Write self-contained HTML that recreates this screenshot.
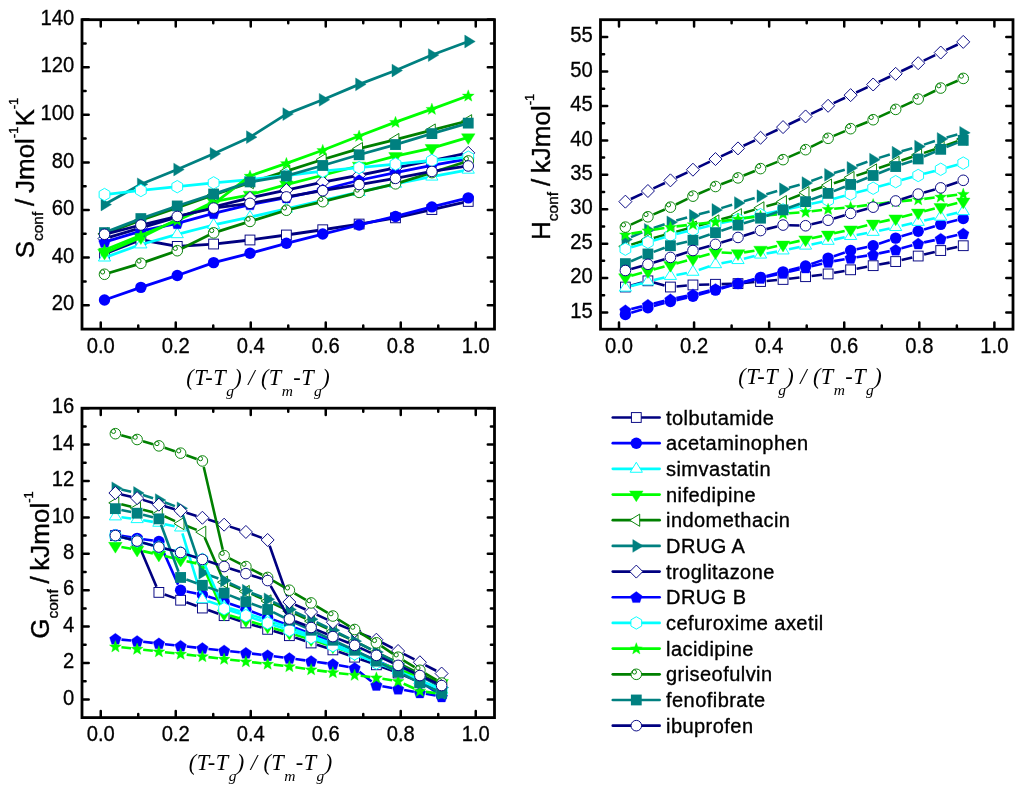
<!DOCTYPE html>
<html><head><meta charset="utf-8"><title>Configurational properties</title>
<style>
html,body{margin:0;padding:0;background:#fff}
svg{display:block}
.tk{font-family:"Liberation Sans",Arial,sans-serif;font-size:21.4px;fill:#000;stroke:#000;stroke-width:.3px}
.lg{font-family:"Liberation Sans",Arial,sans-serif;font-size:20px;letter-spacing:0.45px;fill:#000;stroke:#000;stroke-width:.35px}
.yt{font-family:"Liberation Sans",Arial,sans-serif;font-size:26px;word-spacing:-1.5px;fill:#000;stroke:#000;stroke-width:.35px}
.ss{font-size:15.5px}
.sp{font-size:13px}
.xt{font-family:"Liberation Serif","Times New Roman",serif;font-style:italic;font-size:22.4px;fill:#000}
.sb{font-size:15.5px}
</style></head><body>
<svg width="1024" height="793" viewBox="0 0 1024 793">
<rect width="1024" height="793" fill="#fff"/>
<polyline points="104.5,254.03 140.88,239.75 177.25,246.41 213.62,244.03 250,239.99 286.38,234.99 322.75,229.75 359.12,224.04 395.5,217.85 431.88,209.52 468.25,201.43" fill="none" stroke="#000080" stroke-width="2.8" stroke-linejoin="round" stroke-linecap="round"/>
<rect x="99.6" y="249.13" width="9.8" height="9.8" fill="#fff" stroke="#000080" stroke-width="0.95"/>
<rect x="135.97" y="234.85" width="9.8" height="9.8" fill="#fff" stroke="#000080" stroke-width="0.95"/>
<rect x="172.35" y="241.51" width="9.8" height="9.8" fill="#fff" stroke="#000080" stroke-width="0.95"/>
<rect x="208.72" y="239.13" width="9.8" height="9.8" fill="#fff" stroke="#000080" stroke-width="0.95"/>
<rect x="245.1" y="235.09" width="9.8" height="9.8" fill="#fff" stroke="#000080" stroke-width="0.95"/>
<rect x="281.48" y="230.09" width="9.8" height="9.8" fill="#fff" stroke="#000080" stroke-width="0.95"/>
<rect x="317.85" y="224.85" width="9.8" height="9.8" fill="#fff" stroke="#000080" stroke-width="0.95"/>
<rect x="354.23" y="219.14" width="9.8" height="9.8" fill="#fff" stroke="#000080" stroke-width="0.95"/>
<rect x="390.6" y="212.95" width="9.8" height="9.8" fill="#fff" stroke="#000080" stroke-width="0.95"/>
<rect x="426.98" y="204.62" width="9.8" height="9.8" fill="#fff" stroke="#000080" stroke-width="0.95"/>
<rect x="463.35" y="196.53" width="9.8" height="9.8" fill="#fff" stroke="#000080" stroke-width="0.95"/>
<polyline points="104.5,299.96 140.88,287.35 177.25,275.45 213.62,262.6 250,253.32 286.38,243.32 322.75,234.04 359.12,224.99 395.5,216.43 431.88,206.91 468.25,197.86" fill="none" stroke="#0000FF" stroke-width="2.8" stroke-linejoin="round" stroke-linecap="round"/>
<circle cx="104.5" cy="299.96" r="5.7" fill="#0000FF"/>
<circle cx="140.88" cy="287.35" r="5.7" fill="#0000FF"/>
<circle cx="177.25" cy="275.45" r="5.7" fill="#0000FF"/>
<circle cx="213.62" cy="262.6" r="5.7" fill="#0000FF"/>
<circle cx="250" cy="253.32" r="5.7" fill="#0000FF"/>
<circle cx="286.38" cy="243.32" r="5.7" fill="#0000FF"/>
<circle cx="322.75" cy="234.04" r="5.7" fill="#0000FF"/>
<circle cx="359.12" cy="224.99" r="5.7" fill="#0000FF"/>
<circle cx="395.5" cy="216.43" r="5.7" fill="#0000FF"/>
<circle cx="431.88" cy="206.91" r="5.7" fill="#0000FF"/>
<circle cx="468.25" cy="197.86" r="5.7" fill="#0000FF"/>
<polyline points="104.5,257.6 140.88,244.51 177.25,234.28 213.62,224.99 250,217.14 286.38,208.81 322.75,200.48 359.12,192.15 395.5,183.82 431.88,176.68 468.25,169.78" fill="none" stroke="#00FFFF" stroke-width="2.8" stroke-linejoin="round" stroke-linecap="round"/>
<polygon points="104.5,251 110.6,261 98.4,261" fill="#fff" stroke="#00FFFF" stroke-width="0.95" stroke-linejoin="miter"/>
<polygon points="140.88,237.91 146.97,247.91 134.78,247.91" fill="#fff" stroke="#00FFFF" stroke-width="0.95" stroke-linejoin="miter"/>
<polygon points="177.25,227.68 183.35,237.68 171.15,237.68" fill="#fff" stroke="#00FFFF" stroke-width="0.95" stroke-linejoin="miter"/>
<polygon points="213.62,218.39 219.72,228.39 207.53,228.39" fill="#fff" stroke="#00FFFF" stroke-width="0.95" stroke-linejoin="miter"/>
<polygon points="250,210.54 256.1,220.54 243.9,220.54" fill="#fff" stroke="#00FFFF" stroke-width="0.95" stroke-linejoin="miter"/>
<polygon points="286.38,202.21 292.48,212.21 280.27,212.21" fill="#fff" stroke="#00FFFF" stroke-width="0.95" stroke-linejoin="miter"/>
<polygon points="322.75,193.88 328.85,203.88 316.65,203.88" fill="#fff" stroke="#00FFFF" stroke-width="0.95" stroke-linejoin="miter"/>
<polygon points="359.12,185.55 365.23,195.55 353.02,195.55" fill="#fff" stroke="#00FFFF" stroke-width="0.95" stroke-linejoin="miter"/>
<polygon points="395.5,177.22 401.6,187.22 389.4,187.22" fill="#fff" stroke="#00FFFF" stroke-width="0.95" stroke-linejoin="miter"/>
<polygon points="431.88,170.08 437.98,180.08 425.77,180.08" fill="#fff" stroke="#00FFFF" stroke-width="0.95" stroke-linejoin="miter"/>
<polygon points="468.25,163.18 474.35,173.18 462.15,173.18" fill="#fff" stroke="#00FFFF" stroke-width="0.95" stroke-linejoin="miter"/>
<polyline points="104.5,252.84 140.88,237.37 177.25,219.52 213.62,201.67 250,194.77 286.38,184.53 322.75,175.25 359.12,165.73 395.5,156.21 431.88,148.12 468.25,137.41" fill="none" stroke="#00FF00" stroke-width="2.8" stroke-linejoin="round" stroke-linecap="round"/>
<polygon points="104.5,260.04 111.3,249.24 97.7,249.24" fill="#00FF00" stroke="#00FF00" stroke-width="0.4" stroke-linejoin="miter"/>
<polygon points="140.88,244.57 147.68,233.77 134.07,233.77" fill="#00FF00" stroke="#00FF00" stroke-width="0.4" stroke-linejoin="miter"/>
<polygon points="177.25,226.72 184.05,215.92 170.45,215.92" fill="#00FF00" stroke="#00FF00" stroke-width="0.4" stroke-linejoin="miter"/>
<polygon points="213.62,208.87 220.43,198.07 206.82,198.07" fill="#00FF00" stroke="#00FF00" stroke-width="0.4" stroke-linejoin="miter"/>
<polygon points="250,201.97 256.8,191.17 243.2,191.17" fill="#00FF00" stroke="#00FF00" stroke-width="0.4" stroke-linejoin="miter"/>
<polygon points="286.38,191.73 293.18,180.93 279.57,180.93" fill="#00FF00" stroke="#00FF00" stroke-width="0.4" stroke-linejoin="miter"/>
<polygon points="322.75,182.45 329.55,171.65 315.95,171.65" fill="#00FF00" stroke="#00FF00" stroke-width="0.4" stroke-linejoin="miter"/>
<polygon points="359.12,172.93 365.93,162.13 352.32,162.13" fill="#00FF00" stroke="#00FF00" stroke-width="0.4" stroke-linejoin="miter"/>
<polygon points="395.5,163.41 402.3,152.61 388.7,152.61" fill="#00FF00" stroke="#00FF00" stroke-width="0.4" stroke-linejoin="miter"/>
<polygon points="431.88,155.32 438.68,144.52 425.07,144.52" fill="#00FF00" stroke="#00FF00" stroke-width="0.4" stroke-linejoin="miter"/>
<polygon points="468.25,144.61 475.05,133.81 461.45,133.81" fill="#00FF00" stroke="#00FF00" stroke-width="0.4" stroke-linejoin="miter"/>
<polyline points="104.5,233.8 140.88,220.23 177.25,207.62 213.62,195.01 250,182.63 286.38,171.21 322.75,159.54 359.12,148.6 395.5,139.55 431.88,130.03 468.25,120.75" fill="none" stroke="#008000" stroke-width="2.8" stroke-linejoin="round" stroke-linecap="round"/>
<polygon points="97.9,233.8 107.9,227.7 107.9,239.9" fill="#fff" stroke="#008000" stroke-width="0.95" stroke-linejoin="miter"/>
<polygon points="134.28,220.23 144.28,214.13 144.28,226.33" fill="#fff" stroke="#008000" stroke-width="0.95" stroke-linejoin="miter"/>
<polygon points="170.65,207.62 180.65,201.52 180.65,213.72" fill="#fff" stroke="#008000" stroke-width="0.95" stroke-linejoin="miter"/>
<polygon points="207.03,195.01 217.03,188.91 217.03,201.11" fill="#fff" stroke="#008000" stroke-width="0.95" stroke-linejoin="miter"/>
<polygon points="243.4,182.63 253.4,176.53 253.4,188.73" fill="#fff" stroke="#008000" stroke-width="0.95" stroke-linejoin="miter"/>
<polygon points="279.77,171.21 289.77,165.11 289.77,177.31" fill="#fff" stroke="#008000" stroke-width="0.95" stroke-linejoin="miter"/>
<polygon points="316.15,159.54 326.15,153.44 326.15,165.64" fill="#fff" stroke="#008000" stroke-width="0.95" stroke-linejoin="miter"/>
<polygon points="352.52,148.6 362.52,142.5 362.52,154.7" fill="#fff" stroke="#008000" stroke-width="0.95" stroke-linejoin="miter"/>
<polygon points="388.9,139.55 398.9,133.45 398.9,145.65" fill="#fff" stroke="#008000" stroke-width="0.95" stroke-linejoin="miter"/>
<polygon points="425.27,130.03 435.27,123.93 435.27,136.13" fill="#fff" stroke="#008000" stroke-width="0.95" stroke-linejoin="miter"/>
<polygon points="461.65,120.75 471.65,114.65 471.65,126.85" fill="#fff" stroke="#008000" stroke-width="0.95" stroke-linejoin="miter"/>
<polyline points="104.5,204.53 140.88,184.3 177.25,169.54 213.62,153.83 250,137.17 286.38,114.09 322.75,99.81 359.12,84.34 395.5,70.53 431.88,55.06 468.25,41.5" fill="none" stroke="#008080" stroke-width="2.8" stroke-linejoin="round" stroke-linecap="round"/>
<polygon points="111.5,204.53 101,198.13 101,210.93" fill="#008080" stroke="#008080" stroke-width="0.4" stroke-linejoin="miter"/>
<polygon points="147.88,184.3 137.38,177.9 137.38,190.7" fill="#008080" stroke="#008080" stroke-width="0.4" stroke-linejoin="miter"/>
<polygon points="184.25,169.54 173.75,163.14 173.75,175.94" fill="#008080" stroke="#008080" stroke-width="0.4" stroke-linejoin="miter"/>
<polygon points="220.62,153.83 210.12,147.43 210.12,160.23" fill="#008080" stroke="#008080" stroke-width="0.4" stroke-linejoin="miter"/>
<polygon points="257,137.17 246.5,130.77 246.5,143.57" fill="#008080" stroke="#008080" stroke-width="0.4" stroke-linejoin="miter"/>
<polygon points="293.38,114.09 282.88,107.69 282.88,120.49" fill="#008080" stroke="#008080" stroke-width="0.4" stroke-linejoin="miter"/>
<polygon points="329.75,99.81 319.25,93.41 319.25,106.21" fill="#008080" stroke="#008080" stroke-width="0.4" stroke-linejoin="miter"/>
<polygon points="366.12,84.34 355.62,77.94 355.62,90.74" fill="#008080" stroke="#008080" stroke-width="0.4" stroke-linejoin="miter"/>
<polygon points="402.5,70.53 392,64.13 392,76.93" fill="#008080" stroke="#008080" stroke-width="0.4" stroke-linejoin="miter"/>
<polygon points="438.88,55.06 428.38,48.66 428.38,61.46" fill="#008080" stroke="#008080" stroke-width="0.4" stroke-linejoin="miter"/>
<polygon points="475.25,41.5 464.75,35.1 464.75,47.9" fill="#008080" stroke="#008080" stroke-width="0.4" stroke-linejoin="miter"/>
<polyline points="104.5,238.56 140.88,227.85 177.25,217.14 213.62,206.91 250,197.86 286.38,190.01 322.75,182.15 359.12,175.25 395.5,167.87 431.88,160.5 468.25,152.88" fill="none" stroke="#000080" stroke-width="2.8" stroke-linejoin="round" stroke-linecap="round"/>
<polygon points="104.5,232.06 111,238.56 104.5,245.06 98,238.56" fill="#fff" stroke="#000080" stroke-width="0.95" stroke-linejoin="miter"/>
<polygon points="140.88,221.35 147.38,227.85 140.88,234.35 134.38,227.85" fill="#fff" stroke="#000080" stroke-width="0.95" stroke-linejoin="miter"/>
<polygon points="177.25,210.64 183.75,217.14 177.25,223.64 170.75,217.14" fill="#fff" stroke="#000080" stroke-width="0.95" stroke-linejoin="miter"/>
<polygon points="213.62,200.41 220.12,206.91 213.62,213.41 207.12,206.91" fill="#fff" stroke="#000080" stroke-width="0.95" stroke-linejoin="miter"/>
<polygon points="250,191.36 256.5,197.86 250,204.36 243.5,197.86" fill="#fff" stroke="#000080" stroke-width="0.95" stroke-linejoin="miter"/>
<polygon points="286.38,183.51 292.88,190.01 286.38,196.51 279.88,190.01" fill="#fff" stroke="#000080" stroke-width="0.95" stroke-linejoin="miter"/>
<polygon points="322.75,175.65 329.25,182.15 322.75,188.65 316.25,182.15" fill="#fff" stroke="#000080" stroke-width="0.95" stroke-linejoin="miter"/>
<polygon points="359.12,168.75 365.62,175.25 359.12,181.75 352.62,175.25" fill="#fff" stroke="#000080" stroke-width="0.95" stroke-linejoin="miter"/>
<polygon points="395.5,161.37 402,167.87 395.5,174.37 389,167.87" fill="#fff" stroke="#000080" stroke-width="0.95" stroke-linejoin="miter"/>
<polygon points="431.88,154 438.38,160.5 431.88,167 425.38,160.5" fill="#fff" stroke="#000080" stroke-width="0.95" stroke-linejoin="miter"/>
<polygon points="468.25,146.38 474.75,152.88 468.25,159.38 461.75,152.88" fill="#fff" stroke="#000080" stroke-width="0.95" stroke-linejoin="miter"/>
<polyline points="104.5,242.13 140.88,231.18 177.25,223.33 213.62,213.33 250,204.53 286.38,197.62 322.75,189.77 359.12,180.25 395.5,172.63 431.88,165.49 468.25,158.83" fill="none" stroke="#0000FF" stroke-width="2.8" stroke-linejoin="round" stroke-linecap="round"/>
<polygon points="104.5,236.43 110.3,240.64 108.09,247.47 100.91,247.47 98.7,240.64" fill="#0000FF" stroke="#0000FF" stroke-width="0.3" stroke-linejoin="miter"/>
<polygon points="140.88,225.48 146.68,229.7 144.46,236.52 137.29,236.52 135.07,229.7" fill="#0000FF" stroke="#0000FF" stroke-width="0.3" stroke-linejoin="miter"/>
<polygon points="177.25,217.63 183.05,221.84 180.84,228.66 173.66,228.66 171.45,221.84" fill="#0000FF" stroke="#0000FF" stroke-width="0.3" stroke-linejoin="miter"/>
<polygon points="213.62,207.63 219.43,211.85 217.21,218.67 210.04,218.67 207.82,211.85" fill="#0000FF" stroke="#0000FF" stroke-width="0.3" stroke-linejoin="miter"/>
<polygon points="250,198.83 255.8,203.04 253.59,209.86 246.41,209.86 244.2,203.04" fill="#0000FF" stroke="#0000FF" stroke-width="0.3" stroke-linejoin="miter"/>
<polygon points="286.38,191.92 292.18,196.14 289.96,202.96 282.79,202.96 280.57,196.14" fill="#0000FF" stroke="#0000FF" stroke-width="0.3" stroke-linejoin="miter"/>
<polygon points="322.75,184.07 328.55,188.28 326.34,195.11 319.16,195.11 316.95,188.28" fill="#0000FF" stroke="#0000FF" stroke-width="0.3" stroke-linejoin="miter"/>
<polygon points="359.12,174.55 364.93,178.76 362.71,185.59 355.54,185.59 353.32,178.76" fill="#0000FF" stroke="#0000FF" stroke-width="0.3" stroke-linejoin="miter"/>
<polygon points="395.5,166.93 401.3,171.15 399.09,177.97 391.91,177.97 389.7,171.15" fill="#0000FF" stroke="#0000FF" stroke-width="0.3" stroke-linejoin="miter"/>
<polygon points="431.88,159.79 437.68,164.01 435.46,170.83 428.29,170.83 426.07,164.01" fill="#0000FF" stroke="#0000FF" stroke-width="0.3" stroke-linejoin="miter"/>
<polygon points="468.25,153.13 474.05,157.34 471.84,164.17 464.66,164.17 462.45,157.34" fill="#0000FF" stroke="#0000FF" stroke-width="0.3" stroke-linejoin="miter"/>
<polyline points="104.5,194.53 140.88,190.48 177.25,186.68 213.62,182.87 250,179.54 286.38,175.49 322.75,171.21 359.12,167.64 395.5,164.07 431.88,160.5 468.25,157.16" fill="none" stroke="#00FFFF" stroke-width="2.8" stroke-linejoin="round" stroke-linecap="round"/>
<polygon points="104.5,188.33 109.87,191.43 109.87,197.63 104.5,200.73 99.13,197.63 99.13,191.43" fill="#fff" stroke="#00FFFF" stroke-width="0.95" stroke-linejoin="miter"/>
<polygon points="140.88,184.28 146.24,187.38 146.24,193.58 140.88,196.68 135.51,193.58 135.51,187.38" fill="#fff" stroke="#00FFFF" stroke-width="0.95" stroke-linejoin="miter"/>
<polygon points="177.25,180.48 182.62,183.58 182.62,189.78 177.25,192.88 171.88,189.78 171.88,183.58" fill="#fff" stroke="#00FFFF" stroke-width="0.95" stroke-linejoin="miter"/>
<polygon points="213.62,176.67 218.99,179.77 218.99,185.97 213.62,189.07 208.26,185.97 208.26,179.77" fill="#fff" stroke="#00FFFF" stroke-width="0.95" stroke-linejoin="miter"/>
<polygon points="250,173.34 255.37,176.44 255.37,182.64 250,185.74 244.63,182.64 244.63,176.44" fill="#fff" stroke="#00FFFF" stroke-width="0.95" stroke-linejoin="miter"/>
<polygon points="286.38,169.29 291.74,172.39 291.74,178.59 286.38,181.69 281.01,178.59 281.01,172.39" fill="#fff" stroke="#00FFFF" stroke-width="0.95" stroke-linejoin="miter"/>
<polygon points="322.75,165.01 328.12,168.11 328.12,174.31 322.75,177.41 317.38,174.31 317.38,168.11" fill="#fff" stroke="#00FFFF" stroke-width="0.95" stroke-linejoin="miter"/>
<polygon points="359.12,161.44 364.49,164.54 364.49,170.74 359.12,173.84 353.76,170.74 353.76,164.54" fill="#fff" stroke="#00FFFF" stroke-width="0.95" stroke-linejoin="miter"/>
<polygon points="395.5,157.87 400.87,160.97 400.87,167.17 395.5,170.27 390.13,167.17 390.13,160.97" fill="#fff" stroke="#00FFFF" stroke-width="0.95" stroke-linejoin="miter"/>
<polygon points="431.88,154.3 437.24,157.4 437.24,163.6 431.88,166.7 426.51,163.6 426.51,157.4" fill="#fff" stroke="#00FFFF" stroke-width="0.95" stroke-linejoin="miter"/>
<polygon points="468.25,150.96 473.62,154.06 473.62,160.26 468.25,163.36 462.88,160.26 462.88,154.06" fill="#fff" stroke="#00FFFF" stroke-width="0.95" stroke-linejoin="miter"/>
<polyline points="104.5,249.98 140.88,235.23 177.25,220.47 213.62,203.81 250,175.97 286.38,163.35 322.75,150.26 359.12,135.98 395.5,122.18 431.88,109.09 468.25,95.76" fill="none" stroke="#00FF00" stroke-width="2.8" stroke-linejoin="round" stroke-linecap="round"/>
<polygon points="104.5,243.98 106.09,248.1 110.49,248.34 107.07,251.12 108.2,255.38 104.5,252.98 100.8,255.38 101.93,251.12 98.51,248.34 102.91,248.1" fill="#00FF00" stroke="#00FF00" stroke-width="0.3" stroke-linejoin="miter"/>
<polygon points="140.88,229.23 142.46,233.34 146.87,233.58 143.44,236.36 144.58,240.62 140.88,238.23 137.17,240.62 138.31,236.36 134.88,233.58 139.29,233.34" fill="#00FF00" stroke="#00FF00" stroke-width="0.3" stroke-linejoin="miter"/>
<polygon points="177.25,214.47 178.84,218.59 183.24,218.83 179.82,221.61 180.95,225.87 177.25,223.47 173.55,225.87 174.68,221.61 171.26,218.83 175.66,218.59" fill="#00FF00" stroke="#00FF00" stroke-width="0.3" stroke-linejoin="miter"/>
<polygon points="213.62,197.81 215.21,201.93 219.62,202.17 216.19,204.95 217.33,209.21 213.62,206.81 209.92,209.21 211.06,204.95 207.63,202.17 212.04,201.93" fill="#00FF00" stroke="#00FF00" stroke-width="0.3" stroke-linejoin="miter"/>
<polygon points="250,169.97 251.59,174.08 255.99,174.32 252.57,177.1 253.7,181.36 250,178.97 246.3,181.36 247.43,177.1 244.01,174.32 248.41,174.08" fill="#00FF00" stroke="#00FF00" stroke-width="0.3" stroke-linejoin="miter"/>
<polygon points="286.38,157.35 287.96,161.47 292.37,161.71 288.94,164.49 290.08,168.75 286.38,166.35 282.67,168.75 283.81,164.49 280.38,161.71 284.79,161.47" fill="#00FF00" stroke="#00FF00" stroke-width="0.3" stroke-linejoin="miter"/>
<polygon points="322.75,144.26 324.34,148.38 328.74,148.62 325.32,151.4 326.45,155.66 322.75,153.26 319.05,155.66 320.18,151.4 316.76,148.62 321.16,148.38" fill="#00FF00" stroke="#00FF00" stroke-width="0.3" stroke-linejoin="miter"/>
<polygon points="359.12,129.98 360.71,134.1 365.12,134.34 361.69,137.12 362.83,141.38 359.12,138.98 355.42,141.38 356.56,137.12 353.13,134.34 357.54,134.1" fill="#00FF00" stroke="#00FF00" stroke-width="0.3" stroke-linejoin="miter"/>
<polygon points="395.5,116.18 397.09,120.29 401.49,120.53 398.07,123.31 399.2,127.57 395.5,125.18 391.8,127.57 392.93,123.31 389.51,120.53 393.91,120.29" fill="#00FF00" stroke="#00FF00" stroke-width="0.3" stroke-linejoin="miter"/>
<polygon points="431.88,103.09 433.46,107.2 437.87,107.44 434.44,110.22 435.58,114.48 431.88,112.09 428.17,114.48 429.31,110.22 425.88,107.44 430.29,107.2" fill="#00FF00" stroke="#00FF00" stroke-width="0.3" stroke-linejoin="miter"/>
<polygon points="468.25,89.76 469.84,93.88 474.24,94.11 470.82,96.89 471.95,101.16 468.25,98.76 464.55,101.16 465.68,96.89 462.26,94.11 466.66,93.88" fill="#00FF00" stroke="#00FF00" stroke-width="0.3" stroke-linejoin="miter"/>
<polyline points="104.5,274.26 140.88,263.31 177.25,250.7 213.62,232.85 250,221.42 286.38,210.24 322.75,201.67 359.12,192.39 395.5,183.82 431.88,172.63 468.25,160.97" fill="none" stroke="#008000" stroke-width="2.8" stroke-linejoin="round" stroke-linecap="round"/>
<circle cx="104.5" cy="274.26" r="5.3" fill="#fff" stroke="#008000" stroke-width="0.95"/><circle cx="102.6" cy="271.96" r="2.1" fill="#fff" stroke="#008000" stroke-width="0.95"/>
<circle cx="140.88" cy="263.31" r="5.3" fill="#fff" stroke="#008000" stroke-width="0.95"/><circle cx="138.97" cy="261.01" r="2.1" fill="#fff" stroke="#008000" stroke-width="0.95"/>
<circle cx="177.25" cy="250.7" r="5.3" fill="#fff" stroke="#008000" stroke-width="0.95"/><circle cx="175.35" cy="248.4" r="2.1" fill="#fff" stroke="#008000" stroke-width="0.95"/>
<circle cx="213.62" cy="232.85" r="5.3" fill="#fff" stroke="#008000" stroke-width="0.95"/><circle cx="211.72" cy="230.55" r="2.1" fill="#fff" stroke="#008000" stroke-width="0.95"/>
<circle cx="250" cy="221.42" r="5.3" fill="#fff" stroke="#008000" stroke-width="0.95"/><circle cx="248.1" cy="219.12" r="2.1" fill="#fff" stroke="#008000" stroke-width="0.95"/>
<circle cx="286.38" cy="210.24" r="5.3" fill="#fff" stroke="#008000" stroke-width="0.95"/><circle cx="284.48" cy="207.94" r="2.1" fill="#fff" stroke="#008000" stroke-width="0.95"/>
<circle cx="322.75" cy="201.67" r="5.3" fill="#fff" stroke="#008000" stroke-width="0.95"/><circle cx="320.85" cy="199.37" r="2.1" fill="#fff" stroke="#008000" stroke-width="0.95"/>
<circle cx="359.12" cy="192.39" r="5.3" fill="#fff" stroke="#008000" stroke-width="0.95"/><circle cx="357.23" cy="190.09" r="2.1" fill="#fff" stroke="#008000" stroke-width="0.95"/>
<circle cx="395.5" cy="183.82" r="5.3" fill="#fff" stroke="#008000" stroke-width="0.95"/><circle cx="393.6" cy="181.52" r="2.1" fill="#fff" stroke="#008000" stroke-width="0.95"/>
<circle cx="431.88" cy="172.63" r="5.3" fill="#fff" stroke="#008000" stroke-width="0.95"/><circle cx="429.98" cy="170.33" r="2.1" fill="#fff" stroke="#008000" stroke-width="0.95"/>
<circle cx="468.25" cy="160.97" r="5.3" fill="#fff" stroke="#008000" stroke-width="0.95"/><circle cx="466.35" cy="158.67" r="2.1" fill="#fff" stroke="#008000" stroke-width="0.95"/>
<polyline points="104.5,232.61 140.88,218.57 177.25,205.95 213.62,194.05 250,181.92 286.38,175.97 322.75,165.49 359.12,154.78 395.5,144.55 431.88,133.6 468.25,123.13" fill="none" stroke="#008080" stroke-width="2.8" stroke-linejoin="round" stroke-linecap="round"/>
<rect x="99.1" y="227.21" width="10.8" height="10.8" fill="#008080"/>
<rect x="135.47" y="213.17" width="10.8" height="10.8" fill="#008080"/>
<rect x="171.85" y="200.55" width="10.8" height="10.8" fill="#008080"/>
<rect x="208.22" y="188.65" width="10.8" height="10.8" fill="#008080"/>
<rect x="244.6" y="176.52" width="10.8" height="10.8" fill="#008080"/>
<rect x="280.98" y="170.57" width="10.8" height="10.8" fill="#008080"/>
<rect x="317.35" y="160.09" width="10.8" height="10.8" fill="#008080"/>
<rect x="353.73" y="149.38" width="10.8" height="10.8" fill="#008080"/>
<rect x="390.1" y="139.15" width="10.8" height="10.8" fill="#008080"/>
<rect x="426.48" y="128.2" width="10.8" height="10.8" fill="#008080"/>
<rect x="462.85" y="117.73" width="10.8" height="10.8" fill="#008080"/>
<polyline points="104.5,234.28 140.88,224.99 177.25,216.43 213.62,208.1 250,203.34 286.38,196.91 322.75,190.72 359.12,184.53 395.5,178.35 431.88,171.44 468.25,165.97" fill="none" stroke="#000080" stroke-width="2.8" stroke-linejoin="round" stroke-linecap="round"/>
<circle cx="104.5" cy="234.28" r="5.3" fill="#fff" stroke="#000080" stroke-width="0.95"/>
<circle cx="140.88" cy="224.99" r="5.3" fill="#fff" stroke="#000080" stroke-width="0.95"/>
<circle cx="177.25" cy="216.43" r="5.3" fill="#fff" stroke="#000080" stroke-width="0.95"/>
<circle cx="213.62" cy="208.1" r="5.3" fill="#fff" stroke="#000080" stroke-width="0.95"/>
<circle cx="250" cy="203.34" r="5.3" fill="#fff" stroke="#000080" stroke-width="0.95"/>
<circle cx="286.38" cy="196.91" r="5.3" fill="#fff" stroke="#000080" stroke-width="0.95"/>
<circle cx="322.75" cy="190.72" r="5.3" fill="#fff" stroke="#000080" stroke-width="0.95"/>
<circle cx="359.12" cy="184.53" r="5.3" fill="#fff" stroke="#000080" stroke-width="0.95"/>
<circle cx="395.5" cy="178.35" r="5.3" fill="#fff" stroke="#000080" stroke-width="0.95"/>
<circle cx="431.88" cy="171.44" r="5.3" fill="#fff" stroke="#000080" stroke-width="0.95"/>
<circle cx="468.25" cy="165.97" r="5.3" fill="#fff" stroke="#000080" stroke-width="0.95"/>
<path d="M100.75 328.5V322.4M100.75 20.3V26.4M175.75 328.5V322.4M175.75 20.3V26.4M250.75 328.5V322.4M250.75 20.3V26.4M325.75 328.5V322.4M325.75 20.3V26.4M400.75 328.5V322.4M400.75 20.3V26.4M475.75 328.5V322.4M475.75 20.3V26.4M138.25 328.5V325.5M138.25 20.3V23.3M213.25 328.5V325.5M213.25 20.3V23.3M288.25 328.5V325.5M288.25 20.3V23.3M363.25 328.5V325.5M363.25 20.3V23.3M438.25 328.5V325.5M438.25 20.3V23.3M82.6 305.2H88.7M493.9 305.2H487.8M82.6 257.6H88.7M493.9 257.6H487.8M82.6 210H88.7M493.9 210H487.8M82.6 162.4H88.7M493.9 162.4H487.8M82.6 114.8H88.7M493.9 114.8H487.8M82.6 67.2H88.7M493.9 67.2H487.8M82.6 19.6H88.7M493.9 19.6H487.8M82.6 281.4H85.6M493.9 281.4H490.9M82.6 233.8H85.6M493.9 233.8H490.9M82.6 186.2H85.6M493.9 186.2H490.9M82.6 138.6H85.6M493.9 138.6H490.9M82.6 91H85.6M493.9 91H490.9M82.6 43.4H85.6M493.9 43.4H490.9" fill="none" stroke="#000" stroke-width="2.5" stroke-linecap="round"/>
<rect x="82" y="19.7" width="412.5" height="309.4" fill="none" stroke="#000" stroke-width="2.8"/>
<text class="tk" transform="translate(100.75 352.8) scale(.945 1)" text-anchor="middle">0.0</text>
<text class="tk" transform="translate(175.75 352.8) scale(.945 1)" text-anchor="middle">0.2</text>
<text class="tk" transform="translate(250.75 352.8) scale(.945 1)" text-anchor="middle">0.4</text>
<text class="tk" transform="translate(325.75 352.8) scale(.945 1)" text-anchor="middle">0.6</text>
<text class="tk" transform="translate(400.75 352.8) scale(.945 1)" text-anchor="middle">0.8</text>
<text class="tk" transform="translate(475.75 352.8) scale(.945 1)" text-anchor="middle">1.0</text>
<text class="tk" transform="translate(74.2 310.4) scale(.945 1)" text-anchor="end">20</text>
<text class="tk" transform="translate(74.2 262.8) scale(.945 1)" text-anchor="end">40</text>
<text class="tk" transform="translate(74.2 215.2) scale(.945 1)" text-anchor="end">60</text>
<text class="tk" transform="translate(74.2 167.6) scale(.945 1)" text-anchor="end">80</text>
<text class="tk" transform="translate(74.2 120) scale(.945 1)" text-anchor="end">100</text>
<text class="tk" transform="translate(74.2 72.4) scale(.945 1)" text-anchor="end">120</text>
<text class="tk" transform="translate(74.2 24.8) scale(.945 1)" text-anchor="end">140</text>
<text class="xt" x="258" y="384.8" text-anchor="middle" textLength="143.5" lengthAdjust="spacing">(T-T<tspan class="sb" dy="11">g</tspan><tspan dy="-11">) / (T</tspan><tspan class="sb" dy="11">m</tspan><tspan dy="-11">-T</tspan><tspan class="sb" dy="11">g</tspan><tspan dy="-11">)</tspan></text>
<text class="yt" transform="translate(34.2 178) rotate(-90)" text-anchor="middle">S<tspan class="ss" dy="8.5">conf</tspan><tspan dy="-8.5"> / Jmol<tspan class="sp" dy="-16">-1</tspan><tspan dy="16">K</tspan><tspan class="sp" dy="-16">-1</tspan></tspan></text>
<path d="M631.26 285.41L642.02 282.45M653.79 282.45L664.55 285.41M676.5 286.47L686.88 285.52M699.05 284.77L709.38 284.46M721.57 284.09L731.9 283.77M744.08 283.03L754.45 282.07M766.6 280.96L776.98 280.01M789.1 278.71L799.52 277.44M811.63 275.96L822.04 274.68M834.1 272.84L844.62 270.91M856.62 268.71L867.15 266.78M879.15 264.58L889.67 262.65M901.6 260.1L912.27 257.49M924.12 254.59L934.79 251.98M946.68 249.26L957.28 246.99" fill="none" stroke="#000080" stroke-width="2.6"/>
<rect x="620.48" y="282.13" width="9.8" height="9.8" fill="#fff" stroke="#000080" stroke-width="0.95"/>
<rect x="643.01" y="275.93" width="9.8" height="9.8" fill="#fff" stroke="#000080" stroke-width="0.95"/>
<rect x="665.53" y="282.13" width="9.8" height="9.8" fill="#fff" stroke="#000080" stroke-width="0.95"/>
<rect x="688.05" y="280.06" width="9.8" height="9.8" fill="#fff" stroke="#000080" stroke-width="0.95"/>
<rect x="710.58" y="279.37" width="9.8" height="9.8" fill="#fff" stroke="#000080" stroke-width="0.95"/>
<rect x="733.1" y="278.68" width="9.8" height="9.8" fill="#fff" stroke="#000080" stroke-width="0.95"/>
<rect x="755.63" y="276.62" width="9.8" height="9.8" fill="#fff" stroke="#000080" stroke-width="0.95"/>
<rect x="778.15" y="274.55" width="9.8" height="9.8" fill="#fff" stroke="#000080" stroke-width="0.95"/>
<rect x="800.67" y="271.8" width="9.8" height="9.8" fill="#fff" stroke="#000080" stroke-width="0.95"/>
<rect x="823.2" y="269.04" width="9.8" height="9.8" fill="#fff" stroke="#000080" stroke-width="0.95"/>
<rect x="845.72" y="264.91" width="9.8" height="9.8" fill="#fff" stroke="#000080" stroke-width="0.95"/>
<rect x="868.25" y="260.78" width="9.8" height="9.8" fill="#fff" stroke="#000080" stroke-width="0.95"/>
<rect x="890.77" y="256.65" width="9.8" height="9.8" fill="#fff" stroke="#000080" stroke-width="0.95"/>
<rect x="913.29" y="251.14" width="9.8" height="9.8" fill="#fff" stroke="#000080" stroke-width="0.95"/>
<rect x="935.82" y="245.63" width="9.8" height="9.8" fill="#fff" stroke="#000080" stroke-width="0.95"/>
<rect x="958.34" y="240.82" width="9.8" height="9.8" fill="#fff" stroke="#000080" stroke-width="0.95"/>
<path d="M631.22 312.78L642.07 309.46M653.79 306.06L664.55 303.1M676.38 300.12L687.01 297.68M698.84 294.7L709.6 291.74M721.34 288.42L732.14 285.28M743.88 281.96L754.64 279M766.45 275.94L777.12 273.33M788.95 270.34L799.67 267.56M811.33 264L822.34 260.13M833.88 256.16L844.84 252.48M856.59 249.26L867.18 246.99M878.93 243.77L889.89 240.09M901.5 236.36L912.36 233.04M924.03 229.47L934.88 226.16M946.62 222.84L957.34 220.05" fill="none" stroke="#0000FF" stroke-width="2.6"/>
<circle cx="625.38" cy="314.57" r="5.7" fill="#0000FF"/>
<circle cx="647.91" cy="307.68" r="5.7" fill="#0000FF"/>
<circle cx="670.43" cy="301.48" r="5.7" fill="#0000FF"/>
<circle cx="692.95" cy="296.32" r="5.7" fill="#0000FF"/>
<circle cx="715.48" cy="290.12" r="5.7" fill="#0000FF"/>
<circle cx="738" cy="283.58" r="5.7" fill="#0000FF"/>
<circle cx="760.53" cy="277.39" r="5.7" fill="#0000FF"/>
<circle cx="783.05" cy="271.88" r="5.7" fill="#0000FF"/>
<circle cx="805.57" cy="266.03" r="5.7" fill="#0000FF"/>
<circle cx="828.1" cy="258.11" r="5.7" fill="#0000FF"/>
<circle cx="850.62" cy="250.53" r="5.7" fill="#0000FF"/>
<circle cx="873.15" cy="245.72" r="5.7" fill="#0000FF"/>
<circle cx="895.67" cy="238.14" r="5.7" fill="#0000FF"/>
<circle cx="918.19" cy="231.26" r="5.7" fill="#0000FF"/>
<circle cx="940.72" cy="224.37" r="5.7" fill="#0000FF"/>
<circle cx="963.24" cy="218.52" r="5.7" fill="#0000FF"/>
<path d="M631.26 286.1L642.02 283.14M653.83 280.07L664.5 277.46M676.43 274.91L686.95 272.98M698.74 269.93L709.7 266.25M721.48 263.2L732 261.27M743.93 258.73L754.6 256.11M766.53 253.57L777.05 251.64M789.01 249.26L799.61 246.99M811.54 244.44L822.13 242.17M834.06 239.62L844.66 237.35M856.62 234.98L867.15 233.05M879.11 230.67L889.7 228.4M901.62 225.76L912.25 223.33M924.14 220.6L934.77 218.16M946.64 215.35L957.32 212.74" fill="none" stroke="#00FFFF" stroke-width="2.6"/>
<polygon points="625.38,281.11 631.48,291.11 619.28,291.11" fill="#fff" stroke="#00FFFF" stroke-width="0.95" stroke-linejoin="miter"/>
<polygon points="647.91,274.92 654.01,284.92 641.81,284.92" fill="#fff" stroke="#00FFFF" stroke-width="0.95" stroke-linejoin="miter"/>
<polygon points="670.43,269.41 676.53,279.41 664.33,279.41" fill="#fff" stroke="#00FFFF" stroke-width="0.95" stroke-linejoin="miter"/>
<polygon points="692.95,265.28 699.05,275.28 686.85,275.28" fill="#fff" stroke="#00FFFF" stroke-width="0.95" stroke-linejoin="miter"/>
<polygon points="715.48,257.7 721.58,267.7 709.38,267.7" fill="#fff" stroke="#00FFFF" stroke-width="0.95" stroke-linejoin="miter"/>
<polygon points="738,253.57 744.1,263.57 731.9,263.57" fill="#fff" stroke="#00FFFF" stroke-width="0.95" stroke-linejoin="miter"/>
<polygon points="760.53,248.07 766.63,258.07 754.43,258.07" fill="#fff" stroke="#00FFFF" stroke-width="0.95" stroke-linejoin="miter"/>
<polygon points="783.05,243.94 789.15,253.94 776.95,253.94" fill="#fff" stroke="#00FFFF" stroke-width="0.95" stroke-linejoin="miter"/>
<polygon points="805.57,239.12 811.67,249.12 799.47,249.12" fill="#fff" stroke="#00FFFF" stroke-width="0.95" stroke-linejoin="miter"/>
<polygon points="828.1,234.3 834.2,244.3 822,244.3" fill="#fff" stroke="#00FFFF" stroke-width="0.95" stroke-linejoin="miter"/>
<polygon points="850.62,229.48 856.72,239.48 844.52,239.48" fill="#fff" stroke="#00FFFF" stroke-width="0.95" stroke-linejoin="miter"/>
<polygon points="873.15,225.35 879.25,235.35 867.05,235.35" fill="#fff" stroke="#00FFFF" stroke-width="0.95" stroke-linejoin="miter"/>
<polygon points="895.67,220.53 901.77,230.53 889.57,230.53" fill="#fff" stroke="#00FFFF" stroke-width="0.95" stroke-linejoin="miter"/>
<polygon points="918.19,215.36 924.29,225.36 912.09,225.36" fill="#fff" stroke="#00FFFF" stroke-width="0.95" stroke-linejoin="miter"/>
<polygon points="940.72,210.2 946.82,220.2 934.62,220.2" fill="#fff" stroke="#00FFFF" stroke-width="0.95" stroke-linejoin="miter"/>
<polygon points="963.24,204.69 969.34,214.69 957.14,214.69" fill="#fff" stroke="#00FFFF" stroke-width="0.95" stroke-linejoin="miter"/>
<path d="M631.26 275.77L642.02 272.81M653.79 269.57L664.55 266.61M676.31 263.38L687.07 260.42M698.81 257.1L709.62 253.96M721.57 252.54L731.91 253.01M744.03 252.37L754.5 250.77M766.47 248.48L777.1 246.05M789 243.32L799.63 240.88M811.54 238.24L822.13 235.98M834.04 233.34L844.68 230.9M856.53 228L867.24 225.22M879.09 222.32L889.72 219.88M901.57 216.99L912.29 214.2M924.12 211.22L934.79 208.61M946.64 205.71L957.32 203.1" fill="none" stroke="#00FF00" stroke-width="2.6"/>
<polygon points="625.38,284.59 632.18,273.79 618.58,273.79" fill="#00FF00" stroke="#00FF00" stroke-width="0.4" stroke-linejoin="miter"/>
<polygon points="647.91,278.39 654.71,267.59 641.11,267.59" fill="#00FF00" stroke="#00FF00" stroke-width="0.4" stroke-linejoin="miter"/>
<polygon points="670.43,272.19 677.23,261.39 663.63,261.39" fill="#00FF00" stroke="#00FF00" stroke-width="0.4" stroke-linejoin="miter"/>
<polygon points="692.95,266 699.75,255.2 686.15,255.2" fill="#00FF00" stroke="#00FF00" stroke-width="0.4" stroke-linejoin="miter"/>
<polygon points="715.48,259.46 722.28,248.66 708.68,248.66" fill="#00FF00" stroke="#00FF00" stroke-width="0.4" stroke-linejoin="miter"/>
<polygon points="738,260.49 744.8,249.69 731.2,249.69" fill="#00FF00" stroke="#00FF00" stroke-width="0.4" stroke-linejoin="miter"/>
<polygon points="760.53,257.05 767.33,246.25 753.73,246.25" fill="#00FF00" stroke="#00FF00" stroke-width="0.4" stroke-linejoin="miter"/>
<polygon points="783.05,251.88 789.85,241.08 776.25,241.08" fill="#00FF00" stroke="#00FF00" stroke-width="0.4" stroke-linejoin="miter"/>
<polygon points="805.57,246.72 812.37,235.92 798.77,235.92" fill="#00FF00" stroke="#00FF00" stroke-width="0.4" stroke-linejoin="miter"/>
<polygon points="828.1,241.9 834.9,231.1 821.3,231.1" fill="#00FF00" stroke="#00FF00" stroke-width="0.4" stroke-linejoin="miter"/>
<polygon points="850.62,236.74 857.42,225.94 843.82,225.94" fill="#00FF00" stroke="#00FF00" stroke-width="0.4" stroke-linejoin="miter"/>
<polygon points="873.15,230.88 879.95,220.08 866.35,220.08" fill="#00FF00" stroke="#00FF00" stroke-width="0.4" stroke-linejoin="miter"/>
<polygon points="895.67,225.72 902.47,214.92 888.87,214.92" fill="#00FF00" stroke="#00FF00" stroke-width="0.4" stroke-linejoin="miter"/>
<polygon points="918.19,219.87 924.99,209.07 911.39,209.07" fill="#00FF00" stroke="#00FF00" stroke-width="0.4" stroke-linejoin="miter"/>
<polygon points="940.72,214.36 947.52,203.56 933.92,203.56" fill="#00FF00" stroke="#00FF00" stroke-width="0.4" stroke-linejoin="miter"/>
<polygon points="963.24,208.85 970.04,198.05 956.44,198.05" fill="#00FF00" stroke="#00FF00" stroke-width="0.4" stroke-linejoin="miter"/>
<path d="M631.22 244.62L642.07 241.3M653.79 237.9L664.55 234.94M676.31 231.7L687.07 228.74M698.84 225.51L709.6 222.55M721.36 219.31L732.12 216.35M743.84 212.95L754.69 209.63M766.41 206.23L777.17 203.27M788.72 199.4L799.9 194.95M811.36 190.76L822.32 187.07M833.88 183.18L844.84 179.5M856.4 175.61L867.36 171.92M878.93 168.04L889.89 164.35M901.45 160.46L912.41 156.78M923.98 152.89L934.94 149.2M946.44 145.16L957.51 141.1" fill="none" stroke="#008000" stroke-width="2.6"/>
<polygon points="618.78,246.4 628.78,240.3 628.78,252.5" fill="#fff" stroke="#008000" stroke-width="0.95" stroke-linejoin="miter"/>
<polygon points="641.31,239.52 651.31,233.42 651.31,245.62" fill="#fff" stroke="#008000" stroke-width="0.95" stroke-linejoin="miter"/>
<polygon points="663.83,233.32 673.83,227.22 673.83,239.42" fill="#fff" stroke="#008000" stroke-width="0.95" stroke-linejoin="miter"/>
<polygon points="686.35,227.13 696.35,221.03 696.35,233.23" fill="#fff" stroke="#008000" stroke-width="0.95" stroke-linejoin="miter"/>
<polygon points="708.88,220.93 718.88,214.83 718.88,227.03" fill="#fff" stroke="#008000" stroke-width="0.95" stroke-linejoin="miter"/>
<polygon points="731.4,214.73 741.4,208.63 741.4,220.83" fill="#fff" stroke="#008000" stroke-width="0.95" stroke-linejoin="miter"/>
<polygon points="753.93,207.85 763.93,201.75 763.93,213.95" fill="#fff" stroke="#008000" stroke-width="0.95" stroke-linejoin="miter"/>
<polygon points="776.45,201.65 786.45,195.55 786.45,207.75" fill="#fff" stroke="#008000" stroke-width="0.95" stroke-linejoin="miter"/>
<polygon points="798.97,192.7 808.97,186.6 808.97,198.8" fill="#fff" stroke="#008000" stroke-width="0.95" stroke-linejoin="miter"/>
<polygon points="821.5,185.13 831.5,179.03 831.5,191.23" fill="#fff" stroke="#008000" stroke-width="0.95" stroke-linejoin="miter"/>
<polygon points="844.02,177.55 854.02,171.45 854.02,183.65" fill="#fff" stroke="#008000" stroke-width="0.95" stroke-linejoin="miter"/>
<polygon points="866.55,169.98 876.55,163.88 876.55,176.08" fill="#fff" stroke="#008000" stroke-width="0.95" stroke-linejoin="miter"/>
<polygon points="889.07,162.41 899.07,156.31 899.07,168.51" fill="#fff" stroke="#008000" stroke-width="0.95" stroke-linejoin="miter"/>
<polygon points="911.59,154.83 921.59,148.73 921.59,160.93" fill="#fff" stroke="#008000" stroke-width="0.95" stroke-linejoin="miter"/>
<polygon points="934.12,147.26 944.12,141.16 944.12,153.36" fill="#fff" stroke="#008000" stroke-width="0.95" stroke-linejoin="miter"/>
<polygon points="956.64,139 966.64,132.9 966.64,145.1" fill="#fff" stroke="#008000" stroke-width="0.95" stroke-linejoin="miter"/>
<path d="M630.99 237.12L642.3 232.28M653.69 227.94L664.65 224.25M676.29 220.61L687.1 217.47M698.86 214.23L709.57 211.45M721.31 208.13L732.17 204.81M743.84 201.25L754.69 197.93M766.36 194.36L777.22 191.04M788.93 187.64L799.69 184.68M811.3 180.96L822.37 176.9M833.93 173.02L844.79 169.7M856.35 165.81L867.42 161.75M878.98 157.87L889.84 154.55M901.55 151.15L912.31 148.19M923.98 144.63L934.94 140.94M946.6 137.38L957.36 134.42" fill="none" stroke="#008080" stroke-width="2.6"/>
<polygon points="632.38,239.52 621.88,233.12 621.88,245.92" fill="#008080" stroke="#008080" stroke-width="0.4" stroke-linejoin="miter"/>
<polygon points="654.91,229.88 644.41,223.48 644.41,236.28" fill="#008080" stroke="#008080" stroke-width="0.4" stroke-linejoin="miter"/>
<polygon points="677.43,222.31 666.93,215.91 666.93,228.71" fill="#008080" stroke="#008080" stroke-width="0.4" stroke-linejoin="miter"/>
<polygon points="699.95,215.77 689.45,209.37 689.45,222.17" fill="#008080" stroke="#008080" stroke-width="0.4" stroke-linejoin="miter"/>
<polygon points="722.48,209.91 711.98,203.51 711.98,216.31" fill="#008080" stroke="#008080" stroke-width="0.4" stroke-linejoin="miter"/>
<polygon points="745,203.03 734.5,196.63 734.5,209.43" fill="#008080" stroke="#008080" stroke-width="0.4" stroke-linejoin="miter"/>
<polygon points="767.53,196.14 757.03,189.74 757.03,202.54" fill="#008080" stroke="#008080" stroke-width="0.4" stroke-linejoin="miter"/>
<polygon points="790.05,189.26 779.55,182.86 779.55,195.66" fill="#008080" stroke="#008080" stroke-width="0.4" stroke-linejoin="miter"/>
<polygon points="812.57,183.06 802.07,176.66 802.07,189.46" fill="#008080" stroke="#008080" stroke-width="0.4" stroke-linejoin="miter"/>
<polygon points="835.1,174.8 824.6,168.4 824.6,181.2" fill="#008080" stroke="#008080" stroke-width="0.4" stroke-linejoin="miter"/>
<polygon points="857.62,167.91 847.12,161.51 847.12,174.31" fill="#008080" stroke="#008080" stroke-width="0.4" stroke-linejoin="miter"/>
<polygon points="880.15,159.65 869.65,153.25 869.65,166.05" fill="#008080" stroke="#008080" stroke-width="0.4" stroke-linejoin="miter"/>
<polygon points="902.67,152.77 892.17,146.37 892.17,159.17" fill="#008080" stroke="#008080" stroke-width="0.4" stroke-linejoin="miter"/>
<polygon points="925.19,146.57 914.69,140.17 914.69,152.97" fill="#008080" stroke="#008080" stroke-width="0.4" stroke-linejoin="miter"/>
<polygon points="947.72,139 937.22,132.6 937.22,145.4" fill="#008080" stroke="#008080" stroke-width="0.4" stroke-linejoin="miter"/>
<polygon points="970.24,132.8 959.74,126.4 959.74,139.2" fill="#008080" stroke="#008080" stroke-width="0.4" stroke-linejoin="miter"/>
<path d="M630.9 199.04L642.39 193.61M653.42 188.39L664.92 182.96M675.94 177.74L687.44 172.31M698.47 167.09L709.96 161.65M720.99 156.44L732.49 151M743.52 145.79L755.01 140.35M766.04 135.14L777.54 129.7M788.56 124.49L800.06 119.05M811.09 113.84L822.58 108.4M833.61 103.18L845.11 97.75M856.14 92.53L867.63 87.1M878.66 81.88L890.16 76.45M901.18 71.23L912.68 65.79M923.71 60.58L935.2 55.14M946.23 49.93L957.73 44.49" fill="none" stroke="#000080" stroke-width="2.6"/>
<polygon points="625.38,195.15 631.88,201.65 625.38,208.15 618.88,201.65" fill="#fff" stroke="#000080" stroke-width="0.95" stroke-linejoin="miter"/>
<polygon points="647.91,184.5 654.41,191 647.91,197.5 641.41,191" fill="#fff" stroke="#000080" stroke-width="0.95" stroke-linejoin="miter"/>
<polygon points="670.43,173.85 676.93,180.35 670.43,186.85 663.93,180.35" fill="#fff" stroke="#000080" stroke-width="0.95" stroke-linejoin="miter"/>
<polygon points="692.95,163.2 699.45,169.7 692.95,176.2 686.45,169.7" fill="#fff" stroke="#000080" stroke-width="0.95" stroke-linejoin="miter"/>
<polygon points="715.48,152.55 721.98,159.05 715.48,165.55 708.98,159.05" fill="#fff" stroke="#000080" stroke-width="0.95" stroke-linejoin="miter"/>
<polygon points="738,141.9 744.5,148.4 738,154.9 731.5,148.4" fill="#fff" stroke="#000080" stroke-width="0.95" stroke-linejoin="miter"/>
<polygon points="760.53,131.24 767.03,137.74 760.53,144.24 754.03,137.74" fill="#fff" stroke="#000080" stroke-width="0.95" stroke-linejoin="miter"/>
<polygon points="783.05,120.59 789.55,127.09 783.05,133.59 776.55,127.09" fill="#fff" stroke="#000080" stroke-width="0.95" stroke-linejoin="miter"/>
<polygon points="805.57,109.94 812.07,116.44 805.57,122.94 799.07,116.44" fill="#fff" stroke="#000080" stroke-width="0.95" stroke-linejoin="miter"/>
<polygon points="828.1,99.29 834.6,105.79 828.1,112.29 821.6,105.79" fill="#fff" stroke="#000080" stroke-width="0.95" stroke-linejoin="miter"/>
<polygon points="850.62,88.64 857.12,95.14 850.62,101.64 844.12,95.14" fill="#fff" stroke="#000080" stroke-width="0.95" stroke-linejoin="miter"/>
<polygon points="873.15,77.99 879.65,84.49 873.15,90.99 866.65,84.49" fill="#fff" stroke="#000080" stroke-width="0.95" stroke-linejoin="miter"/>
<polygon points="895.67,67.34 902.17,73.84 895.67,80.34 889.17,73.84" fill="#fff" stroke="#000080" stroke-width="0.95" stroke-linejoin="miter"/>
<polygon points="918.19,56.69 924.69,63.19 918.19,69.69 911.69,63.19" fill="#fff" stroke="#000080" stroke-width="0.95" stroke-linejoin="miter"/>
<polygon points="940.72,46.04 947.22,52.54 940.72,59.04 934.22,52.54" fill="#fff" stroke="#000080" stroke-width="0.95" stroke-linejoin="miter"/>
<polygon points="963.24,35.39 969.74,41.89 963.24,48.39 956.74,41.89" fill="#fff" stroke="#000080" stroke-width="0.95" stroke-linejoin="miter"/>
<path d="M631.31 308.99L641.98 306.38M653.83 303.48L664.5 300.87M676.39 298.14L686.99 295.88M698.88 293.15L709.55 290.54M721.4 287.64L732.08 285.03M743.93 282.13L754.6 279.52M766.49 276.8L777.08 274.53M788.98 271.81L799.65 269.2M811.5 266.3L822.17 263.69M834.1 261.14L844.62 259.21M856.65 257.19L867.12 255.59M879.11 253.39L889.7 251.12M901.55 248.23L912.31 245.27M924.16 242.37L934.75 240.11M946.66 237.47L957.3 235.03" fill="none" stroke="#0000FF" stroke-width="2.6"/>
<polygon points="625.38,304.73 631.18,308.95 628.97,315.77 621.8,315.77 619.58,308.95" fill="#0000FF" stroke="#0000FF" stroke-width="0.3" stroke-linejoin="miter"/>
<polygon points="647.91,299.23 653.71,303.44 651.49,310.26 644.32,310.26 642.1,303.44" fill="#0000FF" stroke="#0000FF" stroke-width="0.3" stroke-linejoin="miter"/>
<polygon points="670.43,293.72 676.23,297.93 674.02,304.75 666.84,304.75 664.63,297.93" fill="#0000FF" stroke="#0000FF" stroke-width="0.3" stroke-linejoin="miter"/>
<polygon points="692.95,288.9 698.76,293.11 696.54,299.93 689.37,299.93 687.15,293.11" fill="#0000FF" stroke="#0000FF" stroke-width="0.3" stroke-linejoin="miter"/>
<polygon points="715.48,283.39 721.28,287.61 719.06,294.43 711.89,294.43 709.68,287.61" fill="#0000FF" stroke="#0000FF" stroke-width="0.3" stroke-linejoin="miter"/>
<polygon points="738,277.88 743.8,282.1 741.59,288.92 734.42,288.92 732.2,282.1" fill="#0000FF" stroke="#0000FF" stroke-width="0.3" stroke-linejoin="miter"/>
<polygon points="760.53,272.37 766.33,276.59 764.11,283.41 756.94,283.41 754.72,276.59" fill="#0000FF" stroke="#0000FF" stroke-width="0.3" stroke-linejoin="miter"/>
<polygon points="783.05,267.56 788.85,271.77 786.64,278.59 779.46,278.59 777.25,271.77" fill="#0000FF" stroke="#0000FF" stroke-width="0.3" stroke-linejoin="miter"/>
<polygon points="805.57,262.05 811.38,266.26 809.16,273.08 801.99,273.08 799.77,266.26" fill="#0000FF" stroke="#0000FF" stroke-width="0.3" stroke-linejoin="miter"/>
<polygon points="828.1,256.54 833.9,260.75 831.68,267.57 824.51,267.57 822.3,260.75" fill="#0000FF" stroke="#0000FF" stroke-width="0.3" stroke-linejoin="miter"/>
<polygon points="850.62,252.41 856.42,256.62 854.21,263.44 847.04,263.44 844.82,256.62" fill="#0000FF" stroke="#0000FF" stroke-width="0.3" stroke-linejoin="miter"/>
<polygon points="873.15,248.97 878.95,253.18 876.73,260 869.56,260 867.34,253.18" fill="#0000FF" stroke="#0000FF" stroke-width="0.3" stroke-linejoin="miter"/>
<polygon points="895.67,244.15 901.47,248.36 899.26,255.18 892.08,255.18 889.87,248.36" fill="#0000FF" stroke="#0000FF" stroke-width="0.3" stroke-linejoin="miter"/>
<polygon points="918.19,237.95 924,242.16 921.78,248.99 914.61,248.99 912.39,242.16" fill="#0000FF" stroke="#0000FF" stroke-width="0.3" stroke-linejoin="miter"/>
<polygon points="940.72,233.13 946.52,237.35 944.3,244.17 937.13,244.17 934.92,237.35" fill="#0000FF" stroke="#0000FF" stroke-width="0.3" stroke-linejoin="miter"/>
<polygon points="963.24,227.97 969.04,232.18 966.83,239 959.66,239 957.44,232.18" fill="#0000FF" stroke="#0000FF" stroke-width="0.3" stroke-linejoin="miter"/>
<path d="M631.22 247.37L642.07 244.06M653.74 240.49L664.6 237.17M676.36 233.94L687.03 231.33M698.88 228.43L709.55 225.82M721.44 223.1L732.04 220.83M743.97 218.28L754.56 216.01M766.49 213.46L777.08 211.19M789.01 208.64L799.61 206.37M811.54 203.82L822.13 201.55M833.98 198.66L844.74 195.7M856.53 192.54L867.24 189.76M879 186.52L889.81 183.39M901.55 180.07L912.31 177.11M924.08 173.87L934.84 170.91M946.6 167.67L957.36 164.71" fill="none" stroke="#00FFFF" stroke-width="2.6"/>
<polygon points="625.38,242.96 630.75,246.06 630.75,252.26 625.38,255.36 620.01,252.26 620.01,246.06" fill="#fff" stroke="#00FFFF" stroke-width="0.95" stroke-linejoin="miter"/>
<polygon points="647.91,236.07 653.28,239.17 653.28,245.37 647.91,248.47 642.54,245.37 642.54,239.17" fill="#fff" stroke="#00FFFF" stroke-width="0.95" stroke-linejoin="miter"/>
<polygon points="670.43,229.19 675.8,232.29 675.8,238.49 670.43,241.59 665.06,238.49 665.06,232.29" fill="#fff" stroke="#00FFFF" stroke-width="0.95" stroke-linejoin="miter"/>
<polygon points="692.95,223.68 698.32,226.78 698.32,232.98 692.95,236.08 687.58,232.98 687.58,226.78" fill="#fff" stroke="#00FFFF" stroke-width="0.95" stroke-linejoin="miter"/>
<polygon points="715.48,218.17 720.85,221.27 720.85,227.47 715.48,230.57 710.11,227.47 710.11,221.27" fill="#fff" stroke="#00FFFF" stroke-width="0.95" stroke-linejoin="miter"/>
<polygon points="738,213.35 743.37,216.45 743.37,222.65 738,225.75 732.63,222.65 732.63,216.45" fill="#fff" stroke="#00FFFF" stroke-width="0.95" stroke-linejoin="miter"/>
<polygon points="760.53,208.53 765.9,211.63 765.9,217.83 760.53,220.93 755.16,217.83 755.16,211.63" fill="#fff" stroke="#00FFFF" stroke-width="0.95" stroke-linejoin="miter"/>
<polygon points="783.05,203.71 788.42,206.81 788.42,213.01 783.05,216.11 777.68,213.01 777.68,206.81" fill="#fff" stroke="#00FFFF" stroke-width="0.95" stroke-linejoin="miter"/>
<polygon points="805.57,198.89 810.94,201.99 810.94,208.19 805.57,211.29 800.2,208.19 800.2,201.99" fill="#fff" stroke="#00FFFF" stroke-width="0.95" stroke-linejoin="miter"/>
<polygon points="828.1,194.07 833.47,197.17 833.47,203.37 828.1,206.47 822.73,203.37 822.73,197.17" fill="#fff" stroke="#00FFFF" stroke-width="0.95" stroke-linejoin="miter"/>
<polygon points="850.62,187.88 855.99,190.98 855.99,197.18 850.62,200.28 845.25,197.18 845.25,190.98" fill="#fff" stroke="#00FFFF" stroke-width="0.95" stroke-linejoin="miter"/>
<polygon points="873.15,182.03 878.52,185.13 878.52,191.33 873.15,194.43 867.78,191.33 867.78,185.13" fill="#fff" stroke="#00FFFF" stroke-width="0.95" stroke-linejoin="miter"/>
<polygon points="895.67,175.49 901.04,178.59 901.04,184.78 895.67,187.88 890.3,184.78 890.3,178.59" fill="#fff" stroke="#00FFFF" stroke-width="0.95" stroke-linejoin="miter"/>
<polygon points="918.19,169.29 923.56,172.39 923.56,178.59 918.19,181.69 912.82,178.59 912.82,172.39" fill="#fff" stroke="#00FFFF" stroke-width="0.95" stroke-linejoin="miter"/>
<polygon points="940.72,163.09 946.09,166.19 946.09,172.39 940.72,175.49 935.35,172.39 935.35,166.19" fill="#fff" stroke="#00FFFF" stroke-width="0.95" stroke-linejoin="miter"/>
<polygon points="963.24,156.9 968.61,160 968.61,166.2 963.24,169.3 957.87,166.2 957.87,160" fill="#fff" stroke="#00FFFF" stroke-width="0.95" stroke-linejoin="miter"/>
<path d="M631.38 233.6L641.91 231.67M653.94 229.65L664.4 228.05M676.48 226.39L686.9 225.11M699.02 223.72L709.41 222.61M721.52 221.13L731.96 219.7M744.06 218.12L754.47 216.85M766.59 215.46L776.98 214.35M789.13 213.24L799.49 212.44M811.63 211.24L822.04 209.97M834.17 208.67L844.55 207.72M856.68 206.42L867.09 205.15M879.2 203.67L889.61 202.39M901.74 201.09L912.12 200.14M924.25 198.85L934.66 197.57M946.77 196.09L957.19 194.82" fill="none" stroke="#00FF00" stroke-width="2.6"/>
<polygon points="625.38,228.7 626.97,232.82 631.37,233.05 627.95,235.83 629.08,240.1 625.38,237.7 621.68,240.1 622.81,235.83 619.39,233.05 623.79,232.82" fill="#00FF00" stroke="#00FF00" stroke-width="0.3" stroke-linejoin="miter"/>
<polygon points="647.91,224.57 649.49,228.68 653.9,228.92 650.47,231.7 651.61,235.97 647.91,233.57 644.2,235.97 645.34,231.7 641.91,228.92 646.32,228.68" fill="#00FF00" stroke="#00FF00" stroke-width="0.3" stroke-linejoin="miter"/>
<polygon points="670.43,221.13 672.02,225.24 676.42,225.48 673,228.26 674.13,232.52 670.43,230.13 666.73,232.52 667.86,228.26 664.44,225.48 668.84,225.24" fill="#00FF00" stroke="#00FF00" stroke-width="0.3" stroke-linejoin="miter"/>
<polygon points="692.95,218.37 694.54,222.49 698.95,222.73 695.52,225.51 696.66,229.77 692.95,227.37 689.25,229.77 690.39,225.51 686.96,222.73 691.37,222.49" fill="#00FF00" stroke="#00FF00" stroke-width="0.3" stroke-linejoin="miter"/>
<polygon points="715.48,215.96 717.06,220.08 721.47,220.32 718.05,223.1 719.18,227.36 715.48,224.96 711.77,227.36 712.91,223.1 709.49,220.32 713.89,220.08" fill="#00FF00" stroke="#00FF00" stroke-width="0.3" stroke-linejoin="miter"/>
<polygon points="738,212.86 739.59,216.98 743.99,217.22 740.57,220 741.7,224.26 738,221.86 734.3,224.26 735.43,220 732.01,217.22 736.41,216.98" fill="#00FF00" stroke="#00FF00" stroke-width="0.3" stroke-linejoin="miter"/>
<polygon points="760.53,210.11 762.11,214.23 766.52,214.46 763.09,217.24 764.23,221.51 760.53,219.11 756.82,221.51 757.96,217.24 754.53,214.46 758.94,214.23" fill="#00FF00" stroke="#00FF00" stroke-width="0.3" stroke-linejoin="miter"/>
<polygon points="783.05,207.7 784.64,211.82 789.04,212.05 785.62,214.83 786.75,219.1 783.05,216.7 779.35,219.1 780.48,214.83 777.06,212.05 781.46,211.82" fill="#00FF00" stroke="#00FF00" stroke-width="0.3" stroke-linejoin="miter"/>
<polygon points="805.57,205.98 807.16,210.09 811.57,210.33 808.14,213.11 809.28,217.38 805.57,214.98 801.87,217.38 803.01,213.11 799.58,210.33 803.99,210.09" fill="#00FF00" stroke="#00FF00" stroke-width="0.3" stroke-linejoin="miter"/>
<polygon points="828.1,203.22 829.68,207.34 834.09,207.58 830.67,210.36 831.8,214.62 828.1,212.22 824.39,214.62 825.53,210.36 822.11,207.58 826.51,207.34" fill="#00FF00" stroke="#00FF00" stroke-width="0.3" stroke-linejoin="miter"/>
<polygon points="850.62,201.16 852.21,205.28 856.61,205.51 853.19,208.29 854.32,212.56 850.62,210.16 846.92,212.56 848.05,208.29 844.63,205.51 849.03,205.28" fill="#00FF00" stroke="#00FF00" stroke-width="0.3" stroke-linejoin="miter"/>
<polygon points="873.15,198.41 874.73,202.52 879.14,202.76 875.71,205.54 876.85,209.8 873.15,207.41 869.44,209.8 870.58,205.54 867.15,202.76 871.56,202.52" fill="#00FF00" stroke="#00FF00" stroke-width="0.3" stroke-linejoin="miter"/>
<polygon points="895.67,195.65 897.26,199.77 901.66,200 898.24,202.79 899.37,207.05 895.67,204.65 891.97,207.05 893.1,202.79 889.68,200 894.08,199.77" fill="#00FF00" stroke="#00FF00" stroke-width="0.3" stroke-linejoin="miter"/>
<polygon points="918.19,193.59 919.78,197.7 924.19,197.94 920.76,200.72 921.9,204.98 918.19,202.59 914.49,204.98 915.63,200.72 912.2,197.94 916.61,197.7" fill="#00FF00" stroke="#00FF00" stroke-width="0.3" stroke-linejoin="miter"/>
<polygon points="940.72,190.83 942.3,194.95 946.71,195.19 943.29,197.97 944.42,202.23 940.72,199.83 937.01,202.23 938.15,197.97 934.73,195.19 939.13,194.95" fill="#00FF00" stroke="#00FF00" stroke-width="0.3" stroke-linejoin="miter"/>
<polygon points="963.24,188.08 964.83,192.19 969.23,192.43 965.81,195.21 966.94,199.47 963.24,197.08 959.54,199.47 960.67,195.21 957.25,192.43 961.65,192.19" fill="#00FF00" stroke="#00FF00" stroke-width="0.3" stroke-linejoin="miter"/>
<path d="M630.93 224.58L642.36 219.34M653.51 214.4L664.82 209.56M675.91 204.48L687.47 198.82M698.56 193.74L709.87 188.9M721.18 184.33L732.3 180.08M743.64 175.57L754.89 170.93M766.19 166.35L777.38 161.91M788.63 157.18L800 152.14M811.02 146.92L822.65 141.06M833.71 135.91L845.01 131.07M856.29 126.42L867.48 121.97M878.69 117.18L890.12 111.93M901.21 106.85L912.65 101.61M923.67 96.38L935.24 90.73M946.33 85.65L957.63 80.81" fill="none" stroke="#008000" stroke-width="2.6"/>
<circle cx="625.38" cy="227.13" r="5.3" fill="#fff" stroke="#008000" stroke-width="0.95"/><circle cx="623.48" cy="224.83" r="2.1" fill="#fff" stroke="#008000" stroke-width="0.95"/>
<circle cx="647.91" cy="216.8" r="5.3" fill="#fff" stroke="#008000" stroke-width="0.95"/><circle cx="646.01" cy="214.5" r="2.1" fill="#fff" stroke="#008000" stroke-width="0.95"/>
<circle cx="670.43" cy="207.16" r="5.3" fill="#fff" stroke="#008000" stroke-width="0.95"/><circle cx="668.53" cy="204.86" r="2.1" fill="#fff" stroke="#008000" stroke-width="0.95"/>
<circle cx="692.95" cy="196.14" r="5.3" fill="#fff" stroke="#008000" stroke-width="0.95"/><circle cx="691.05" cy="193.84" r="2.1" fill="#fff" stroke="#008000" stroke-width="0.95"/>
<circle cx="715.48" cy="186.5" r="5.3" fill="#fff" stroke="#008000" stroke-width="0.95"/><circle cx="713.58" cy="184.2" r="2.1" fill="#fff" stroke="#008000" stroke-width="0.95"/>
<circle cx="738" cy="177.9" r="5.3" fill="#fff" stroke="#008000" stroke-width="0.95"/><circle cx="736.1" cy="175.6" r="2.1" fill="#fff" stroke="#008000" stroke-width="0.95"/>
<circle cx="760.53" cy="168.6" r="5.3" fill="#fff" stroke="#008000" stroke-width="0.95"/><circle cx="758.63" cy="166.3" r="2.1" fill="#fff" stroke="#008000" stroke-width="0.95"/>
<circle cx="783.05" cy="159.65" r="5.3" fill="#fff" stroke="#008000" stroke-width="0.95"/><circle cx="781.15" cy="157.35" r="2.1" fill="#fff" stroke="#008000" stroke-width="0.95"/>
<circle cx="805.57" cy="149.67" r="5.3" fill="#fff" stroke="#008000" stroke-width="0.95"/><circle cx="803.67" cy="147.37" r="2.1" fill="#fff" stroke="#008000" stroke-width="0.95"/>
<circle cx="828.1" cy="138.31" r="5.3" fill="#fff" stroke="#008000" stroke-width="0.95"/><circle cx="826.2" cy="136.01" r="2.1" fill="#fff" stroke="#008000" stroke-width="0.95"/>
<circle cx="850.62" cy="128.67" r="5.3" fill="#fff" stroke="#008000" stroke-width="0.95"/><circle cx="848.72" cy="126.37" r="2.1" fill="#fff" stroke="#008000" stroke-width="0.95"/>
<circle cx="873.15" cy="119.72" r="5.3" fill="#fff" stroke="#008000" stroke-width="0.95"/><circle cx="871.25" cy="117.42" r="2.1" fill="#fff" stroke="#008000" stroke-width="0.95"/>
<circle cx="895.67" cy="109.39" r="5.3" fill="#fff" stroke="#008000" stroke-width="0.95"/><circle cx="893.77" cy="107.09" r="2.1" fill="#fff" stroke="#008000" stroke-width="0.95"/>
<circle cx="918.19" cy="99.06" r="5.3" fill="#fff" stroke="#008000" stroke-width="0.95"/><circle cx="916.29" cy="96.77" r="2.1" fill="#fff" stroke="#008000" stroke-width="0.95"/>
<circle cx="940.72" cy="88.05" r="5.3" fill="#fff" stroke="#008000" stroke-width="0.95"/><circle cx="938.82" cy="85.75" r="2.1" fill="#fff" stroke="#008000" stroke-width="0.95"/>
<circle cx="963.24" cy="78.41" r="5.3" fill="#fff" stroke="#008000" stroke-width="0.95"/><circle cx="961.34" cy="76.11" r="2.1" fill="#fff" stroke="#008000" stroke-width="0.95"/>
<path d="M630.99 261.22L642.3 256.38M653.63 251.88L664.7 247.82M676.36 244.27L687.03 241.66M698.74 238.26L709.7 234.58M721.26 230.69L732.22 227M743.84 223.28L754.69 219.96M766.25 216.07L777.32 212.01M788.78 207.81L799.85 203.75M811.3 199.55L822.37 195.49M833.77 191.14L844.95 186.69M856.29 182.19L867.48 177.74M878.81 173.24L890 168.79M901.45 164.59L912.41 160.91M923.8 156.56L935.11 151.73M946.39 147.07L957.57 142.63" fill="none" stroke="#008080" stroke-width="2.6"/>
<rect x="619.98" y="258.22" width="10.8" height="10.8" fill="#008080"/>
<rect x="642.51" y="248.58" width="10.8" height="10.8" fill="#008080"/>
<rect x="665.03" y="240.32" width="10.8" height="10.8" fill="#008080"/>
<rect x="687.55" y="234.81" width="10.8" height="10.8" fill="#008080"/>
<rect x="710.08" y="227.23" width="10.8" height="10.8" fill="#008080"/>
<rect x="732.6" y="219.66" width="10.8" height="10.8" fill="#008080"/>
<rect x="755.13" y="212.78" width="10.8" height="10.8" fill="#008080"/>
<rect x="777.65" y="204.51" width="10.8" height="10.8" fill="#008080"/>
<rect x="800.17" y="196.25" width="10.8" height="10.8" fill="#008080"/>
<rect x="822.7" y="187.99" width="10.8" height="10.8" fill="#008080"/>
<rect x="845.22" y="179.04" width="10.8" height="10.8" fill="#008080"/>
<rect x="867.75" y="170.09" width="10.8" height="10.8" fill="#008080"/>
<rect x="890.27" y="161.14" width="10.8" height="10.8" fill="#008080"/>
<rect x="912.79" y="153.56" width="10.8" height="10.8" fill="#008080"/>
<rect x="935.32" y="143.93" width="10.8" height="10.8" fill="#008080"/>
<rect x="957.84" y="134.97" width="10.8" height="10.8" fill="#008080"/>
<path d="M631.26 268.88L642.02 265.92M653.74 262.52L664.6 259.2M676.26 255.64L687.12 252.32M698.84 248.92L709.6 245.96M721.31 242.56L732.17 239.24M743.84 235.67L754.69 232.35M766.45 229.12L777.12 226.51M789.15 225.25L799.48 225.56M811.5 224.3L822.17 221.69M833.93 218.46L844.79 215.14M856.5 211.74L867.26 208.78M879.03 205.54L889.79 202.58M901.5 199.18L912.36 195.86M924.08 192.46L934.84 189.5M946.5 185.94L957.46 182.25" fill="none" stroke="#000080" stroke-width="2.6"/>
<circle cx="625.38" cy="270.5" r="5.3" fill="#fff" stroke="#000080" stroke-width="0.95"/>
<circle cx="647.91" cy="264.31" r="5.3" fill="#fff" stroke="#000080" stroke-width="0.95"/>
<circle cx="670.43" cy="257.42" r="5.3" fill="#fff" stroke="#000080" stroke-width="0.95"/>
<circle cx="692.95" cy="250.53" r="5.3" fill="#fff" stroke="#000080" stroke-width="0.95"/>
<circle cx="715.48" cy="244.34" r="5.3" fill="#fff" stroke="#000080" stroke-width="0.95"/>
<circle cx="738" cy="237.45" r="5.3" fill="#fff" stroke="#000080" stroke-width="0.95"/>
<circle cx="760.53" cy="230.57" r="5.3" fill="#fff" stroke="#000080" stroke-width="0.95"/>
<circle cx="783.05" cy="225.06" r="5.3" fill="#fff" stroke="#000080" stroke-width="0.95"/>
<circle cx="805.57" cy="225.75" r="5.3" fill="#fff" stroke="#000080" stroke-width="0.95"/>
<circle cx="828.1" cy="220.24" r="5.3" fill="#fff" stroke="#000080" stroke-width="0.95"/>
<circle cx="850.62" cy="213.36" r="5.3" fill="#fff" stroke="#000080" stroke-width="0.95"/>
<circle cx="873.15" cy="207.16" r="5.3" fill="#fff" stroke="#000080" stroke-width="0.95"/>
<circle cx="895.67" cy="200.96" r="5.3" fill="#fff" stroke="#000080" stroke-width="0.95"/>
<circle cx="918.19" cy="194.08" r="5.3" fill="#fff" stroke="#000080" stroke-width="0.95"/>
<circle cx="940.72" cy="187.88" r="5.3" fill="#fff" stroke="#000080" stroke-width="0.95"/>
<circle cx="963.24" cy="180.31" r="5.3" fill="#fff" stroke="#000080" stroke-width="0.95"/>
<path d="M619 328.6V322.5M619 20.3V26.4M694.08 328.6V322.5M694.08 20.3V26.4M769.16 328.6V322.5M769.16 20.3V26.4M844.24 328.6V322.5M844.24 20.3V26.4M919.32 328.6V322.5M919.32 20.3V26.4M994.4 328.6V322.5M994.4 20.3V26.4M656.54 328.6V325.6M656.54 20.3V23.3M731.62 328.6V325.6M731.62 20.3V23.3M806.7 328.6V325.6M806.7 20.3V23.3M881.78 328.6V325.6M881.78 20.3V23.3M956.86 328.6V325.6M956.86 20.3V23.3M601.1 312.5H607.2M1012.4 312.5H1006.3M601.1 278.07H607.2M1012.4 278.07H1006.3M601.1 243.65H607.2M1012.4 243.65H1006.3M601.1 209.22H607.2M1012.4 209.22H1006.3M601.1 174.8H607.2M1012.4 174.8H1006.3M601.1 140.38H607.2M1012.4 140.38H1006.3M601.1 105.95H607.2M1012.4 105.95H1006.3M601.1 71.53H607.2M1012.4 71.53H1006.3M601.1 37.1H607.2M1012.4 37.1H1006.3M601.1 295.29H604.1M1012.4 295.29H1009.4M601.1 260.86H604.1M1012.4 260.86H1009.4M601.1 226.44H604.1M1012.4 226.44H1009.4M601.1 192.01H604.1M1012.4 192.01H1009.4M601.1 157.59H604.1M1012.4 157.59H1009.4M601.1 123.16H604.1M1012.4 123.16H1009.4M601.1 88.74H604.1M1012.4 88.74H1009.4M601.1 54.31H604.1M1012.4 54.31H1009.4" fill="none" stroke="#000" stroke-width="2.5" stroke-linecap="round"/>
<rect x="600.5" y="19.7" width="412.5" height="309.5" fill="none" stroke="#000" stroke-width="2.8"/>
<text class="tk" transform="translate(619 352.9) scale(.945 1)" text-anchor="middle">0.0</text>
<text class="tk" transform="translate(694.08 352.9) scale(.945 1)" text-anchor="middle">0.2</text>
<text class="tk" transform="translate(769.16 352.9) scale(.945 1)" text-anchor="middle">0.4</text>
<text class="tk" transform="translate(844.24 352.9) scale(.945 1)" text-anchor="middle">0.6</text>
<text class="tk" transform="translate(919.32 352.9) scale(.945 1)" text-anchor="middle">0.8</text>
<text class="tk" transform="translate(994.4 352.9) scale(.945 1)" text-anchor="middle">1.0</text>
<text class="tk" transform="translate(592.7 317.7) scale(.945 1)" text-anchor="end">15</text>
<text class="tk" transform="translate(592.7 283.27) scale(.945 1)" text-anchor="end">20</text>
<text class="tk" transform="translate(592.7 248.85) scale(.945 1)" text-anchor="end">25</text>
<text class="tk" transform="translate(592.7 214.42) scale(.945 1)" text-anchor="end">30</text>
<text class="tk" transform="translate(592.7 180) scale(.945 1)" text-anchor="end">35</text>
<text class="tk" transform="translate(592.7 145.57) scale(.945 1)" text-anchor="end">40</text>
<text class="tk" transform="translate(592.7 111.15) scale(.945 1)" text-anchor="end">45</text>
<text class="tk" transform="translate(592.7 76.73) scale(.945 1)" text-anchor="end">50</text>
<text class="tk" transform="translate(592.7 42.3) scale(.945 1)" text-anchor="end">55</text>
<text class="xt" x="810" y="384.3" text-anchor="middle" textLength="143.5" lengthAdjust="spacing">(T-T<tspan class="sb" dy="11">g</tspan><tspan dy="-11">) / (T</tspan><tspan class="sb" dy="11">m</tspan><tspan dy="-11">-T</tspan><tspan class="sb" dy="11">g</tspan><tspan dy="-11">)</tspan></text>
<text class="yt" transform="translate(549.6 166.8) rotate(-90)" text-anchor="middle">H<tspan class="ss" dy="8.5">conf</tspan><tspan dy="-8.5"> / kJmol<tspan class="sp" dy="-16">-1</tspan></tspan></text>
<path d="M121.29 537.09L131.21 539.57M139.51 546.68L156.49 586.77M164.61 594.45L174.89 598.14M186.36 602.28L196.64 605.97M208.13 610.06L218.37 613.66M229.91 617.62L240.09 621.02M251.73 624.67L261.77 627.62M273.48 631.04L283.52 633.99M295.16 637.64L305.34 641.04M316.94 644.83L327.06 648.05M338.66 651.83L348.84 655.24M360.38 659.2L370.62 662.8M382.08 666.97L392.42 670.86M403.75 675.36L414.25 679.76M425.5 684.46L436 688.86" fill="none" stroke="#000080" stroke-width="2.6"/>
<rect x="110.47" y="530.7" width="9.8" height="9.8" fill="#fff" stroke="#000080" stroke-width="0.95"/>
<rect x="132.22" y="536.16" width="9.8" height="9.8" fill="#fff" stroke="#000080" stroke-width="0.95"/>
<rect x="153.97" y="587.48" width="9.8" height="9.8" fill="#fff" stroke="#000080" stroke-width="0.95"/>
<rect x="175.72" y="595.31" width="9.8" height="9.8" fill="#fff" stroke="#000080" stroke-width="0.95"/>
<rect x="197.47" y="603.14" width="9.8" height="9.8" fill="#fff" stroke="#000080" stroke-width="0.95"/>
<rect x="219.22" y="610.78" width="9.8" height="9.8" fill="#fff" stroke="#000080" stroke-width="0.95"/>
<rect x="240.97" y="618.06" width="9.8" height="9.8" fill="#fff" stroke="#000080" stroke-width="0.95"/>
<rect x="262.73" y="624.43" width="9.8" height="9.8" fill="#fff" stroke="#000080" stroke-width="0.95"/>
<rect x="284.48" y="630.8" width="9.8" height="9.8" fill="#fff" stroke="#000080" stroke-width="0.95"/>
<rect x="306.23" y="638.08" width="9.8" height="9.8" fill="#fff" stroke="#000080" stroke-width="0.95"/>
<rect x="327.98" y="645" width="9.8" height="9.8" fill="#fff" stroke="#000080" stroke-width="0.95"/>
<rect x="349.73" y="652.28" width="9.8" height="9.8" fill="#fff" stroke="#000080" stroke-width="0.95"/>
<rect x="371.48" y="659.92" width="9.8" height="9.8" fill="#fff" stroke="#000080" stroke-width="0.95"/>
<rect x="393.23" y="668.11" width="9.8" height="9.8" fill="#fff" stroke="#000080" stroke-width="0.95"/>
<rect x="414.98" y="677.21" width="9.8" height="9.8" fill="#fff" stroke="#000080" stroke-width="0.95"/>
<rect x="436.73" y="686.31" width="9.8" height="9.8" fill="#fff" stroke="#000080" stroke-width="0.95"/>
<path d="M121.39 535.7L131.11 537.32M143.16 539.19L152.84 540.56M161.36 547L178.14 584.63M186.6 591.45L196.4 593.5M208.19 596.6L218.31 599.82M229.88 603.69L240.12 607.29M251.58 611.46L261.92 615.35M273.33 619.65L283.67 623.54M295.08 627.84L305.42 631.73M316.83 636.03L327.17 639.92M338.5 644.42L349 648.82M360.25 653.52L370.75 657.92M381.92 662.82L392.58 667.73M403.58 673.02L414.42 678.46M424.94 684.59L436.56 692.37" fill="none" stroke="#0000FF" stroke-width="2.6"/>
<circle cx="115.38" cy="534.69" r="5.7" fill="#0000FF"/>
<circle cx="137.12" cy="538.33" r="5.7" fill="#0000FF"/>
<circle cx="158.88" cy="541.42" r="5.7" fill="#0000FF"/>
<circle cx="180.62" cy="590.2" r="5.7" fill="#0000FF"/>
<circle cx="202.38" cy="594.75" r="5.7" fill="#0000FF"/>
<circle cx="224.12" cy="601.67" r="5.7" fill="#0000FF"/>
<circle cx="245.88" cy="609.31" r="5.7" fill="#0000FF"/>
<circle cx="267.62" cy="617.5" r="5.7" fill="#0000FF"/>
<circle cx="289.38" cy="625.69" r="5.7" fill="#0000FF"/>
<circle cx="311.12" cy="633.88" r="5.7" fill="#0000FF"/>
<circle cx="332.88" cy="642.07" r="5.7" fill="#0000FF"/>
<circle cx="354.62" cy="651.17" r="5.7" fill="#0000FF"/>
<circle cx="376.38" cy="660.27" r="5.7" fill="#0000FF"/>
<circle cx="398.12" cy="670.28" r="5.7" fill="#0000FF"/>
<circle cx="419.88" cy="681.2" r="5.7" fill="#0000FF"/>
<circle cx="441.62" cy="695.76" r="5.7" fill="#0000FF"/>
<path d="M121.43 517.25L131.07 518.46M143.14 520.23L152.86 521.85M164.84 524.16L174.66 526.3M182.4 533.43L200.6 593.46M208.16 601.24L218.34 604.64M229.98 608.29L240.02 611.24M251.66 614.89L261.84 618.29M273.41 622.17L283.59 625.57M295.08 629.66L305.42 633.55M316.83 637.85L327.17 641.74M338.58 646.04L348.92 649.93M360.25 654.43L370.75 658.83M382 663.53L392.5 667.93M403.67 672.83L414.33 677.74M425.42 682.84L436.08 687.75" fill="none" stroke="#00FFFF" stroke-width="2.6"/>
<polygon points="115.38,509.89 121.47,519.89 109.28,519.89" fill="#fff" stroke="#00FFFF" stroke-width="0.95" stroke-linejoin="miter"/>
<polygon points="137.12,512.62 143.22,522.62 131.03,522.62" fill="#fff" stroke="#00FFFF" stroke-width="0.95" stroke-linejoin="miter"/>
<polygon points="158.88,516.26 164.97,526.26 152.78,526.26" fill="#fff" stroke="#00FFFF" stroke-width="0.95" stroke-linejoin="miter"/>
<polygon points="180.62,520.99 186.72,530.99 174.53,530.99" fill="#fff" stroke="#00FFFF" stroke-width="0.95" stroke-linejoin="miter"/>
<polygon points="202.38,592.7 208.47,602.7 196.28,602.7" fill="#fff" stroke="#00FFFF" stroke-width="0.95" stroke-linejoin="miter"/>
<polygon points="224.12,599.98 230.22,609.98 218.03,609.98" fill="#fff" stroke="#00FFFF" stroke-width="0.95" stroke-linejoin="miter"/>
<polygon points="245.88,606.35 251.97,616.35 239.78,616.35" fill="#fff" stroke="#00FFFF" stroke-width="0.95" stroke-linejoin="miter"/>
<polygon points="267.62,613.63 273.73,623.63 261.52,623.63" fill="#fff" stroke="#00FFFF" stroke-width="0.95" stroke-linejoin="miter"/>
<polygon points="289.38,620.91 295.48,630.91 283.27,630.91" fill="#fff" stroke="#00FFFF" stroke-width="0.95" stroke-linejoin="miter"/>
<polygon points="311.12,629.1 317.23,639.1 305.02,639.1" fill="#fff" stroke="#00FFFF" stroke-width="0.95" stroke-linejoin="miter"/>
<polygon points="332.88,637.29 338.98,647.29 326.77,647.29" fill="#fff" stroke="#00FFFF" stroke-width="0.95" stroke-linejoin="miter"/>
<polygon points="354.62,645.48 360.73,655.48 348.52,655.48" fill="#fff" stroke="#00FFFF" stroke-width="0.95" stroke-linejoin="miter"/>
<polygon points="376.38,654.58 382.48,664.58 370.28,664.58" fill="#fff" stroke="#00FFFF" stroke-width="0.95" stroke-linejoin="miter"/>
<polygon points="398.12,663.68 404.23,673.68 392.02,673.68" fill="#fff" stroke="#00FFFF" stroke-width="0.95" stroke-linejoin="miter"/>
<polygon points="419.88,673.69 425.98,683.69 413.78,683.69" fill="#fff" stroke="#00FFFF" stroke-width="0.95" stroke-linejoin="miter"/>
<polygon points="441.62,683.7 447.73,693.7 435.52,693.7" fill="#fff" stroke="#00FFFF" stroke-width="0.95" stroke-linejoin="miter"/>
<path d="M121.38 547.03L131.12 548.74M143.08 551.14L152.92 553.37M164.81 556.1L174.69 558.41M186.58 561.15L196.42 563.38M204.84 570.3L221.66 608.28M229.98 615.57L240.02 618.52M251.73 621.94L261.77 624.89M273.48 628.31L283.52 631.26M295.23 634.68L305.27 637.63M316.91 641.28L327.09 644.68M338.66 648.56L348.84 651.96M360.33 656.05L370.67 659.94M382.16 664.03L392.34 667.43M403.91 671.31L414.09 674.71M425.73 678.36L435.77 681.31" fill="none" stroke="#00FF00" stroke-width="2.6"/>
<polygon points="115.38,553.17 122.17,542.37 108.58,542.37" fill="#00FF00" stroke="#00FF00" stroke-width="0.4" stroke-linejoin="miter"/>
<polygon points="137.12,557 143.93,546.2 130.32,546.2" fill="#00FF00" stroke="#00FF00" stroke-width="0.4" stroke-linejoin="miter"/>
<polygon points="158.88,561.91 165.68,551.11 152.07,551.11" fill="#00FF00" stroke="#00FF00" stroke-width="0.4" stroke-linejoin="miter"/>
<polygon points="180.62,567.01 187.43,556.21 173.82,556.21" fill="#00FF00" stroke="#00FF00" stroke-width="0.4" stroke-linejoin="miter"/>
<polygon points="202.38,571.92 209.18,561.12 195.57,561.12" fill="#00FF00" stroke="#00FF00" stroke-width="0.4" stroke-linejoin="miter"/>
<polygon points="224.12,621.06 230.93,610.26 217.32,610.26" fill="#00FF00" stroke="#00FF00" stroke-width="0.4" stroke-linejoin="miter"/>
<polygon points="245.88,627.43 252.68,616.63 239.07,616.63" fill="#00FF00" stroke="#00FF00" stroke-width="0.4" stroke-linejoin="miter"/>
<polygon points="267.62,633.8 274.43,623 260.82,623" fill="#00FF00" stroke="#00FF00" stroke-width="0.4" stroke-linejoin="miter"/>
<polygon points="289.38,640.17 296.18,629.37 282.57,629.37" fill="#00FF00" stroke="#00FF00" stroke-width="0.4" stroke-linejoin="miter"/>
<polygon points="311.12,646.54 317.93,635.74 304.32,635.74" fill="#00FF00" stroke="#00FF00" stroke-width="0.4" stroke-linejoin="miter"/>
<polygon points="332.88,653.82 339.68,643.02 326.07,643.02" fill="#00FF00" stroke="#00FF00" stroke-width="0.4" stroke-linejoin="miter"/>
<polygon points="354.62,661.1 361.43,650.3 347.82,650.3" fill="#00FF00" stroke="#00FF00" stroke-width="0.4" stroke-linejoin="miter"/>
<polygon points="376.38,669.29 383.18,658.49 369.58,658.49" fill="#00FF00" stroke="#00FF00" stroke-width="0.4" stroke-linejoin="miter"/>
<polygon points="398.12,676.57 404.93,665.77 391.32,665.77" fill="#00FF00" stroke="#00FF00" stroke-width="0.4" stroke-linejoin="miter"/>
<polygon points="419.88,683.85 426.68,673.05 413.08,673.05" fill="#00FF00" stroke="#00FF00" stroke-width="0.4" stroke-linejoin="miter"/>
<polygon points="441.62,690.22 448.43,679.42 434.82,679.42" fill="#00FF00" stroke="#00FF00" stroke-width="0.4" stroke-linejoin="miter"/>
<path d="M121.29 504.33L131.21 506.81M143.04 509.79L152.96 512.27M164.43 516.27L175.07 521.08M186.3 525.82L196.7 529.91M204.81 537.74L221.69 576.6M229.74 584.59L240.26 589.08M251.47 593.91L262.03 598.5M273.15 603.53L283.85 608.54M294.92 613.68L305.58 618.59M316.67 623.69L327.33 628.6M338.42 633.7L349.08 638.61M360.08 643.9L370.92 649.34M381.83 654.82L392.67 660.26M403.58 665.74L414.42 671.18M425.33 676.66L436.17 682.1" fill="none" stroke="#008000" stroke-width="2.6"/>
<polygon points="108.78,502.84 118.78,496.74 118.78,508.94" fill="#fff" stroke="#008000" stroke-width="0.95" stroke-linejoin="miter"/>
<polygon points="130.53,508.3 140.53,502.2 140.53,514.4" fill="#fff" stroke="#008000" stroke-width="0.95" stroke-linejoin="miter"/>
<polygon points="152.28,513.76 162.28,507.66 162.28,519.86" fill="#fff" stroke="#008000" stroke-width="0.95" stroke-linejoin="miter"/>
<polygon points="174.03,523.59 184.03,517.49 184.03,529.69" fill="#fff" stroke="#008000" stroke-width="0.95" stroke-linejoin="miter"/>
<polygon points="195.78,532.14 205.78,526.04 205.78,538.24" fill="#fff" stroke="#008000" stroke-width="0.95" stroke-linejoin="miter"/>
<polygon points="217.53,582.19 227.53,576.09 227.53,588.29" fill="#fff" stroke="#008000" stroke-width="0.95" stroke-linejoin="miter"/>
<polygon points="239.28,591.47 249.28,585.37 249.28,597.57" fill="#fff" stroke="#008000" stroke-width="0.95" stroke-linejoin="miter"/>
<polygon points="261.02,600.94 271.02,594.84 271.02,607.04" fill="#fff" stroke="#008000" stroke-width="0.95" stroke-linejoin="miter"/>
<polygon points="282.77,611.13 292.77,605.03 292.77,617.23" fill="#fff" stroke="#008000" stroke-width="0.95" stroke-linejoin="miter"/>
<polygon points="304.52,621.14 314.52,615.04 314.52,627.24" fill="#fff" stroke="#008000" stroke-width="0.95" stroke-linejoin="miter"/>
<polygon points="326.27,631.15 336.27,625.05 336.27,637.25" fill="#fff" stroke="#008000" stroke-width="0.95" stroke-linejoin="miter"/>
<polygon points="348.02,641.16 358.02,635.06 358.02,647.26" fill="#fff" stroke="#008000" stroke-width="0.95" stroke-linejoin="miter"/>
<polygon points="369.78,652.08 379.78,645.98 379.78,658.18" fill="#fff" stroke="#008000" stroke-width="0.95" stroke-linejoin="miter"/>
<polygon points="391.52,663 401.52,656.9 401.52,669.1" fill="#fff" stroke="#008000" stroke-width="0.95" stroke-linejoin="miter"/>
<polygon points="413.28,673.92 423.28,667.82 423.28,680.02" fill="#fff" stroke="#008000" stroke-width="0.95" stroke-linejoin="miter"/>
<polygon points="435.02,684.84 445.02,678.74 445.02,690.94" fill="#fff" stroke="#008000" stroke-width="0.95" stroke-linejoin="miter"/>
<path d="M121.34 489.58L131.16 491.72M142.92 494.9L153.08 498.22M164.58 502.26L174.92 506.15M182.58 514.08L200.42 566.95M208.11 574.79L218.39 578.49M229.65 583.14L240.35 588.16M251.55 592.98L261.95 597.07M273.15 601.89L283.85 606.9M294.93 612L305.57 616.81M316.58 622.06L327.42 627.5M338.33 632.98L349.17 638.42M360.08 643.9L370.92 649.34M381.73 654.99L392.77 661M403.48 666.82L414.52 672.83M425.23 678.65L436.27 684.66" fill="none" stroke="#008080" stroke-width="2.6"/>
<polygon points="122.38,488.28 111.88,481.88 111.88,494.68" fill="#008080" stroke="#008080" stroke-width="0.4" stroke-linejoin="miter"/>
<polygon points="144.12,493.01 133.62,486.61 133.62,499.41" fill="#008080" stroke="#008080" stroke-width="0.4" stroke-linejoin="miter"/>
<polygon points="165.88,500.11 155.38,493.71 155.38,506.51" fill="#008080" stroke="#008080" stroke-width="0.4" stroke-linejoin="miter"/>
<polygon points="187.62,508.3 177.12,501.9 177.12,514.7" fill="#008080" stroke="#008080" stroke-width="0.4" stroke-linejoin="miter"/>
<polygon points="209.38,572.73 198.88,566.33 198.88,579.13" fill="#008080" stroke="#008080" stroke-width="0.4" stroke-linejoin="miter"/>
<polygon points="231.12,580.55 220.62,574.15 220.62,586.95" fill="#008080" stroke="#008080" stroke-width="0.4" stroke-linejoin="miter"/>
<polygon points="252.88,590.75 242.38,584.35 242.38,597.15" fill="#008080" stroke="#008080" stroke-width="0.4" stroke-linejoin="miter"/>
<polygon points="274.62,599.3 264.12,592.9 264.12,605.7" fill="#008080" stroke="#008080" stroke-width="0.4" stroke-linejoin="miter"/>
<polygon points="296.38,609.49 285.88,603.09 285.88,615.89" fill="#008080" stroke="#008080" stroke-width="0.4" stroke-linejoin="miter"/>
<polygon points="318.12,619.32 307.62,612.92 307.62,625.72" fill="#008080" stroke="#008080" stroke-width="0.4" stroke-linejoin="miter"/>
<polygon points="339.88,630.24 329.38,623.84 329.38,636.64" fill="#008080" stroke="#008080" stroke-width="0.4" stroke-linejoin="miter"/>
<polygon points="361.62,641.16 351.12,634.76 351.12,647.56" fill="#008080" stroke="#008080" stroke-width="0.4" stroke-linejoin="miter"/>
<polygon points="383.38,652.08 372.88,645.68 372.88,658.48" fill="#008080" stroke="#008080" stroke-width="0.4" stroke-linejoin="miter"/>
<polygon points="405.12,663.91 394.62,657.51 394.62,670.31" fill="#008080" stroke="#008080" stroke-width="0.4" stroke-linejoin="miter"/>
<polygon points="426.88,675.74 416.38,669.34 416.38,682.14" fill="#008080" stroke="#008080" stroke-width="0.4" stroke-linejoin="miter"/>
<polygon points="448.62,687.57 438.12,681.17 438.12,693.97" fill="#008080" stroke="#008080" stroke-width="0.4" stroke-linejoin="miter"/>
<path d="M121.31 494.4L131.19 496.72M142.97 499.87L153.03 502.9M164.74 506.33L174.76 509.18M186.44 512.7L196.56 515.92M208.19 519.61L218.31 522.83M229.91 526.62L240.09 530.02M251.6 534.07L261.9 537.86M269.64 545.72L287.36 596.27M294.92 604.58L305.58 609.49M316.65 614.63L327.35 619.64M338.52 624.55L348.98 628.84M360.3 633.38L370.7 637.47M381.79 642.51L392.71 648.18M403.54 653.8L414.46 659.46M425.29 665.08L436.21 670.75" fill="none" stroke="#000080" stroke-width="2.6"/>
<polygon points="115.38,486.51 121.88,493.01 115.38,499.51 108.88,493.01" fill="#fff" stroke="#000080" stroke-width="0.95" stroke-linejoin="miter"/>
<polygon points="137.12,491.61 143.62,498.11 137.12,504.61 130.62,498.11" fill="#fff" stroke="#000080" stroke-width="0.95" stroke-linejoin="miter"/>
<polygon points="158.88,498.16 165.38,504.66 158.88,511.16 152.38,504.66" fill="#fff" stroke="#000080" stroke-width="0.95" stroke-linejoin="miter"/>
<polygon points="180.62,504.35 187.12,510.85 180.62,517.35 174.12,510.85" fill="#fff" stroke="#000080" stroke-width="0.95" stroke-linejoin="miter"/>
<polygon points="202.38,511.26 208.88,517.76 202.38,524.26 195.88,517.76" fill="#fff" stroke="#000080" stroke-width="0.95" stroke-linejoin="miter"/>
<polygon points="224.12,518.18 230.62,524.68 224.12,531.18 217.62,524.68" fill="#fff" stroke="#000080" stroke-width="0.95" stroke-linejoin="miter"/>
<polygon points="245.88,525.46 252.38,531.96 245.88,538.46 239.38,531.96" fill="#fff" stroke="#000080" stroke-width="0.95" stroke-linejoin="miter"/>
<polygon points="267.62,533.47 274.12,539.97 267.62,546.47 261.12,539.97" fill="#fff" stroke="#000080" stroke-width="0.95" stroke-linejoin="miter"/>
<polygon points="289.38,595.53 295.88,602.03 289.38,608.53 282.88,602.03" fill="#fff" stroke="#000080" stroke-width="0.95" stroke-linejoin="miter"/>
<polygon points="311.12,605.54 317.62,612.04 311.12,618.54 304.62,612.04" fill="#fff" stroke="#000080" stroke-width="0.95" stroke-linejoin="miter"/>
<polygon points="332.88,615.73 339.38,622.23 332.88,628.73 326.38,622.23" fill="#fff" stroke="#000080" stroke-width="0.95" stroke-linejoin="miter"/>
<polygon points="354.62,624.65 361.12,631.15 354.62,637.65 348.12,631.15" fill="#fff" stroke="#000080" stroke-width="0.95" stroke-linejoin="miter"/>
<polygon points="376.38,633.2 382.88,639.7 376.38,646.2 369.88,639.7" fill="#fff" stroke="#000080" stroke-width="0.95" stroke-linejoin="miter"/>
<polygon points="398.12,644.49 404.62,650.99 398.12,657.49 391.62,650.99" fill="#fff" stroke="#000080" stroke-width="0.95" stroke-linejoin="miter"/>
<polygon points="419.88,655.77 426.38,662.27 419.88,668.77 413.38,662.27" fill="#fff" stroke="#000080" stroke-width="0.95" stroke-linejoin="miter"/>
<polygon points="441.62,667.06 448.12,673.56 441.62,680.06 435.12,673.56" fill="#fff" stroke="#000080" stroke-width="0.95" stroke-linejoin="miter"/>
<path d="M121.44 639.59L131.06 640.55M143.19 641.82L152.81 642.87M164.94 644.19L174.56 645.23M186.69 646.55L196.31 647.6M208.44 648.92L218.06 649.96M230.19 651.28L239.81 652.33M251.94 653.65L261.56 654.7M273.67 656.17L283.33 657.46M295.42 659.08L305.08 660.37M317.16 662.04L326.84 663.41M338.88 665.33L348.62 667.04M359.42 671.87L371.58 681.43M382.38 686.26L392.12 687.97M404.14 690.03L413.86 691.66M425.87 693.77L435.63 695.57" fill="none" stroke="#0000FF" stroke-width="2.6"/>
<polygon points="115.38,633.28 121.18,637.49 118.96,644.31 111.79,644.31 109.57,637.49" fill="#0000FF" stroke="#0000FF" stroke-width="0.3" stroke-linejoin="miter"/>
<polygon points="137.12,635.46 142.93,639.67 140.71,646.5 133.54,646.5 131.32,639.67" fill="#0000FF" stroke="#0000FF" stroke-width="0.3" stroke-linejoin="miter"/>
<polygon points="158.88,637.83 164.68,642.04 162.46,648.86 155.29,648.86 153.07,642.04" fill="#0000FF" stroke="#0000FF" stroke-width="0.3" stroke-linejoin="miter"/>
<polygon points="180.62,640.19 186.43,644.41 184.21,651.23 177.04,651.23 174.82,644.41" fill="#0000FF" stroke="#0000FF" stroke-width="0.3" stroke-linejoin="miter"/>
<polygon points="202.38,642.56 208.18,646.77 205.96,653.59 198.79,653.59 196.57,646.77" fill="#0000FF" stroke="#0000FF" stroke-width="0.3" stroke-linejoin="miter"/>
<polygon points="224.12,644.92 229.93,649.14 227.71,655.96 220.54,655.96 218.32,649.14" fill="#0000FF" stroke="#0000FF" stroke-width="0.3" stroke-linejoin="miter"/>
<polygon points="245.88,647.29 251.68,651.5 249.46,658.33 242.29,658.33 240.07,651.5" fill="#0000FF" stroke="#0000FF" stroke-width="0.3" stroke-linejoin="miter"/>
<polygon points="267.62,649.66 273.43,653.87 271.21,660.69 264.04,660.69 261.82,653.87" fill="#0000FF" stroke="#0000FF" stroke-width="0.3" stroke-linejoin="miter"/>
<polygon points="289.38,652.57 295.18,656.78 292.96,663.6 285.79,663.6 283.57,656.78" fill="#0000FF" stroke="#0000FF" stroke-width="0.3" stroke-linejoin="miter"/>
<polygon points="311.12,655.48 316.93,659.69 314.71,666.52 307.54,666.52 305.32,659.69" fill="#0000FF" stroke="#0000FF" stroke-width="0.3" stroke-linejoin="miter"/>
<polygon points="332.88,658.57 338.68,662.79 336.46,669.61 329.29,669.61 327.07,662.79" fill="#0000FF" stroke="#0000FF" stroke-width="0.3" stroke-linejoin="miter"/>
<polygon points="354.62,662.4 360.43,666.61 358.21,673.43 351.04,673.43 348.82,666.61" fill="#0000FF" stroke="#0000FF" stroke-width="0.3" stroke-linejoin="miter"/>
<polygon points="376.38,679.5 382.18,683.72 379.96,690.54 372.79,690.54 370.57,683.72" fill="#0000FF" stroke="#0000FF" stroke-width="0.3" stroke-linejoin="miter"/>
<polygon points="398.12,683.33 403.93,687.54 401.71,694.36 394.54,694.36 392.32,687.54" fill="#0000FF" stroke="#0000FF" stroke-width="0.3" stroke-linejoin="miter"/>
<polygon points="419.88,686.97 425.68,691.18 423.46,698 416.29,698 414.07,691.18" fill="#0000FF" stroke="#0000FF" stroke-width="0.3" stroke-linejoin="miter"/>
<polygon points="441.62,690.97 447.43,695.18 445.21,702.01 438.04,702.01 435.82,695.18" fill="#0000FF" stroke="#0000FF" stroke-width="0.3" stroke-linejoin="miter"/>
<path d="M121.29 537.09L131.21 539.57M143 542.68L153 545.44M164.79 548.55L174.71 551.04M186.44 554.37L196.56 557.59M204.84 565.02L221.66 603.18M229.94 610.61L240.06 613.83M251.66 617.62L261.84 621.02M273.41 624.9L283.59 628.3M295.16 632.18L305.34 635.58M316.83 639.67L327.17 643.56M338.58 647.86L348.92 651.75M360.25 656.25L370.75 660.65M382.08 665.15L392.42 669.04M403.75 673.54L414.25 677.94M425.5 682.64L436 687.04" fill="none" stroke="#00FFFF" stroke-width="2.6"/>
<polygon points="115.38,529.4 120.74,532.5 120.74,538.7 115.38,541.8 110.01,538.7 110.01,532.5" fill="#fff" stroke="#00FFFF" stroke-width="0.95" stroke-linejoin="miter"/>
<polygon points="137.12,534.86 142.49,537.96 142.49,544.16 137.12,547.26 131.76,544.16 131.76,537.96" fill="#fff" stroke="#00FFFF" stroke-width="0.95" stroke-linejoin="miter"/>
<polygon points="158.88,540.87 164.24,543.97 164.24,550.17 158.88,553.27 153.51,550.17 153.51,543.97" fill="#fff" stroke="#00FFFF" stroke-width="0.95" stroke-linejoin="miter"/>
<polygon points="180.62,546.33 185.99,549.43 185.99,555.63 180.62,558.73 175.26,555.63 175.26,549.43" fill="#fff" stroke="#00FFFF" stroke-width="0.95" stroke-linejoin="miter"/>
<polygon points="202.38,553.24 207.74,556.34 207.74,562.54 202.38,565.64 197.01,562.54 197.01,556.34" fill="#fff" stroke="#00FFFF" stroke-width="0.95" stroke-linejoin="miter"/>
<polygon points="224.12,602.56 229.49,605.66 229.49,611.86 224.12,614.96 218.76,611.86 218.76,605.66" fill="#fff" stroke="#00FFFF" stroke-width="0.95" stroke-linejoin="miter"/>
<polygon points="245.88,609.48 251.24,612.58 251.24,618.78 245.88,621.88 240.51,618.78 240.51,612.58" fill="#fff" stroke="#00FFFF" stroke-width="0.95" stroke-linejoin="miter"/>
<polygon points="267.62,616.76 272.99,619.86 272.99,626.06 267.62,629.16 262.26,626.06 262.26,619.86" fill="#fff" stroke="#00FFFF" stroke-width="0.95" stroke-linejoin="miter"/>
<polygon points="289.38,624.04 294.74,627.14 294.74,633.34 289.38,636.44 284.01,633.34 284.01,627.14" fill="#fff" stroke="#00FFFF" stroke-width="0.95" stroke-linejoin="miter"/>
<polygon points="311.12,631.32 316.49,634.42 316.49,640.62 311.12,643.72 305.76,640.62 305.76,634.42" fill="#fff" stroke="#00FFFF" stroke-width="0.95" stroke-linejoin="miter"/>
<polygon points="332.88,639.51 338.24,642.61 338.24,648.81 332.88,651.91 327.51,648.81 327.51,642.61" fill="#fff" stroke="#00FFFF" stroke-width="0.95" stroke-linejoin="miter"/>
<polygon points="354.62,647.7 359.99,650.8 359.99,657 354.62,660.1 349.26,657 349.26,650.8" fill="#fff" stroke="#00FFFF" stroke-width="0.95" stroke-linejoin="miter"/>
<polygon points="376.38,656.8 381.74,659.9 381.74,666.1 376.38,669.2 371.01,666.1 371.01,659.9" fill="#fff" stroke="#00FFFF" stroke-width="0.95" stroke-linejoin="miter"/>
<polygon points="398.12,664.99 403.49,668.09 403.49,674.29 398.12,677.39 392.76,674.29 392.76,668.09" fill="#fff" stroke="#00FFFF" stroke-width="0.95" stroke-linejoin="miter"/>
<polygon points="419.88,674.09 425.24,677.19 425.24,683.39 419.88,686.49 414.51,683.39 414.51,677.19" fill="#fff" stroke="#00FFFF" stroke-width="0.95" stroke-linejoin="miter"/>
<polygon points="441.62,683.19 446.99,686.29 446.99,692.49 441.62,695.59 436.26,692.49 436.26,686.29" fill="#fff" stroke="#00FFFF" stroke-width="0.95" stroke-linejoin="miter"/>
<path d="M121.44 647.28L131.06 648.33M143.18 649.7L152.82 650.82M164.94 652.19L174.56 653.24M186.68 654.61L196.32 655.74M208.43 657.16L218.07 658.29M230.18 659.71L239.82 660.83M251.94 662.2L261.56 663.25M273.68 664.62L283.32 665.75M295.41 667.32L305.09 668.69M317.17 670.36L326.83 671.65M338.93 673.17L348.57 674.3M360.68 675.77L370.32 676.98M382.4 678.7L392.1 680.24M403.68 683.71L414.32 688.52M425.92 691.84L435.58 693.13" fill="none" stroke="#00FF00" stroke-width="2.6"/>
<polygon points="115.38,640.62 116.96,644.74 121.37,644.97 117.94,647.75 119.08,652.02 115.38,649.62 111.67,652.02 112.81,647.75 109.38,644.97 113.79,644.74" fill="#00FF00" stroke="#00FF00" stroke-width="0.3" stroke-linejoin="miter"/>
<polygon points="137.12,642.99 138.71,647.1 143.12,647.34 139.69,650.12 140.83,654.38 137.12,651.99 133.42,654.38 134.56,650.12 131.13,647.34 135.54,647.1" fill="#00FF00" stroke="#00FF00" stroke-width="0.3" stroke-linejoin="miter"/>
<polygon points="158.88,645.53 160.46,649.65 164.87,649.89 161.44,652.67 162.58,656.93 158.88,654.53 155.17,656.93 156.31,652.67 152.88,649.89 157.29,649.65" fill="#00FF00" stroke="#00FF00" stroke-width="0.3" stroke-linejoin="miter"/>
<polygon points="180.62,647.9 182.21,652.02 186.62,652.25 183.19,655.03 184.33,659.3 180.62,656.9 176.92,659.3 178.06,655.03 174.63,652.25 179.04,652.02" fill="#00FF00" stroke="#00FF00" stroke-width="0.3" stroke-linejoin="miter"/>
<polygon points="202.38,650.45 203.96,654.56 208.37,654.8 204.94,657.58 206.08,661.84 202.38,659.45 198.67,661.84 199.81,657.58 196.38,654.8 200.79,654.56" fill="#00FF00" stroke="#00FF00" stroke-width="0.3" stroke-linejoin="miter"/>
<polygon points="224.12,653 225.71,657.11 230.12,657.35 226.69,660.13 227.83,664.39 224.12,662 220.42,664.39 221.56,660.13 218.13,657.35 222.54,657.11" fill="#00FF00" stroke="#00FF00" stroke-width="0.3" stroke-linejoin="miter"/>
<polygon points="245.88,655.54 247.46,659.66 251.87,659.9 248.44,662.68 249.58,666.94 245.88,664.54 242.17,666.94 243.31,662.68 239.88,659.9 244.29,659.66" fill="#00FF00" stroke="#00FF00" stroke-width="0.3" stroke-linejoin="miter"/>
<polygon points="267.62,657.91 269.21,662.03 273.62,662.26 270.19,665.04 271.33,669.31 267.62,666.91 263.92,669.31 265.06,665.04 261.63,662.26 266.04,662.03" fill="#00FF00" stroke="#00FF00" stroke-width="0.3" stroke-linejoin="miter"/>
<polygon points="289.38,660.46 290.96,664.57 295.37,664.81 291.94,667.59 293.08,671.85 289.38,669.46 285.67,671.85 286.81,667.59 283.38,664.81 287.79,664.57" fill="#00FF00" stroke="#00FF00" stroke-width="0.3" stroke-linejoin="miter"/>
<polygon points="311.12,663.55 312.71,667.67 317.12,667.91 313.69,670.69 314.83,674.95 311.12,672.55 307.42,674.95 308.56,670.69 305.13,667.91 309.54,667.67" fill="#00FF00" stroke="#00FF00" stroke-width="0.3" stroke-linejoin="miter"/>
<polygon points="332.88,666.46 334.46,670.58 338.87,670.82 335.44,673.6 336.58,677.86 332.88,675.46 329.17,677.86 330.31,673.6 326.88,670.82 331.29,670.58" fill="#00FF00" stroke="#00FF00" stroke-width="0.3" stroke-linejoin="miter"/>
<polygon points="354.62,669.01 356.21,673.13 360.62,673.37 357.19,676.15 358.33,680.41 354.62,678.01 350.92,680.41 352.06,676.15 348.63,673.37 353.04,673.13" fill="#00FF00" stroke="#00FF00" stroke-width="0.3" stroke-linejoin="miter"/>
<polygon points="376.38,671.74 377.96,675.86 382.37,676.1 378.94,678.88 380.08,683.14 376.38,680.74 372.67,683.14 373.81,678.88 370.38,676.1 374.79,675.86" fill="#00FF00" stroke="#00FF00" stroke-width="0.3" stroke-linejoin="miter"/>
<polygon points="398.12,675.2 399.71,679.32 404.12,679.55 400.69,682.33 401.83,686.6 398.12,684.2 394.42,686.6 395.56,682.33 392.13,679.55 396.54,679.32" fill="#00FF00" stroke="#00FF00" stroke-width="0.3" stroke-linejoin="miter"/>
<polygon points="419.88,685.03 421.46,689.14 425.87,689.38 422.44,692.16 423.58,696.42 419.88,694.03 416.17,696.42 417.31,692.16 413.88,689.38 418.29,689.14" fill="#00FF00" stroke="#00FF00" stroke-width="0.3" stroke-linejoin="miter"/>
<polygon points="441.62,687.94 443.21,692.06 447.62,692.29 444.19,695.07 445.33,699.34 441.62,696.94 437.92,699.34 439.06,695.07 435.63,692.29 440.04,692.06" fill="#00FF00" stroke="#00FF00" stroke-width="0.3" stroke-linejoin="miter"/>
<path d="M121.27 435.26L131.23 437.93M142.98 441.22L153.02 444.16M164.66 447.81L174.84 451.22M186.36 455.22L196.64 458.91M203.74 466.93L222.76 549.67M229.58 558.36L240.42 563.8M251.33 569.28L262.17 574.72M272.89 580.54L284.11 587.12M294.64 593.28L305.86 599.86M316.35 606.09L327.65 612.9M338.06 619.26L349.44 626.3M359.83 632.69L371.17 639.62M381.46 646.16L393.04 653.81M403.35 660.32L414.65 667.13M425.14 673.36L436.36 679.94" fill="none" stroke="#008000" stroke-width="2.6"/>
<circle cx="115.38" cy="433.68" r="5.3" fill="#fff" stroke="#008000" stroke-width="0.95"/><circle cx="113.47" cy="431.38" r="2.1" fill="#fff" stroke="#008000" stroke-width="0.95"/>
<circle cx="137.12" cy="439.5" r="5.3" fill="#fff" stroke="#008000" stroke-width="0.95"/><circle cx="135.22" cy="437.2" r="2.1" fill="#fff" stroke="#008000" stroke-width="0.95"/>
<circle cx="158.88" cy="445.87" r="5.3" fill="#fff" stroke="#008000" stroke-width="0.95"/><circle cx="156.97" cy="443.57" r="2.1" fill="#fff" stroke="#008000" stroke-width="0.95"/>
<circle cx="180.62" cy="453.15" r="5.3" fill="#fff" stroke="#008000" stroke-width="0.95"/><circle cx="178.72" cy="450.85" r="2.1" fill="#fff" stroke="#008000" stroke-width="0.95"/>
<circle cx="202.38" cy="460.98" r="5.3" fill="#fff" stroke="#008000" stroke-width="0.95"/><circle cx="200.47" cy="458.68" r="2.1" fill="#fff" stroke="#008000" stroke-width="0.95"/>
<circle cx="224.12" cy="555.62" r="5.3" fill="#fff" stroke="#008000" stroke-width="0.95"/><circle cx="222.22" cy="553.32" r="2.1" fill="#fff" stroke="#008000" stroke-width="0.95"/>
<circle cx="245.88" cy="566.54" r="5.3" fill="#fff" stroke="#008000" stroke-width="0.95"/><circle cx="243.97" cy="564.24" r="2.1" fill="#fff" stroke="#008000" stroke-width="0.95"/>
<circle cx="267.62" cy="577.46" r="5.3" fill="#fff" stroke="#008000" stroke-width="0.95"/><circle cx="265.73" cy="575.16" r="2.1" fill="#fff" stroke="#008000" stroke-width="0.95"/>
<circle cx="289.38" cy="590.2" r="5.3" fill="#fff" stroke="#008000" stroke-width="0.95"/><circle cx="287.48" cy="587.9" r="2.1" fill="#fff" stroke="#008000" stroke-width="0.95"/>
<circle cx="311.12" cy="602.94" r="5.3" fill="#fff" stroke="#008000" stroke-width="0.95"/><circle cx="309.23" cy="600.64" r="2.1" fill="#fff" stroke="#008000" stroke-width="0.95"/>
<circle cx="332.88" cy="616.04" r="5.3" fill="#fff" stroke="#008000" stroke-width="0.95"/><circle cx="330.98" cy="613.74" r="2.1" fill="#fff" stroke="#008000" stroke-width="0.95"/>
<circle cx="354.62" cy="629.51" r="5.3" fill="#fff" stroke="#008000" stroke-width="0.95"/><circle cx="352.73" cy="627.21" r="2.1" fill="#fff" stroke="#008000" stroke-width="0.95"/>
<circle cx="376.38" cy="642.8" r="5.3" fill="#fff" stroke="#008000" stroke-width="0.95"/><circle cx="374.48" cy="640.5" r="2.1" fill="#fff" stroke="#008000" stroke-width="0.95"/>
<circle cx="398.12" cy="657.18" r="5.3" fill="#fff" stroke="#008000" stroke-width="0.95"/><circle cx="396.23" cy="654.88" r="2.1" fill="#fff" stroke="#008000" stroke-width="0.95"/>
<circle cx="419.88" cy="670.28" r="5.3" fill="#fff" stroke="#008000" stroke-width="0.95"/><circle cx="417.98" cy="667.98" r="2.1" fill="#fff" stroke="#008000" stroke-width="0.95"/>
<circle cx="441.62" cy="683.02" r="5.3" fill="#fff" stroke="#008000" stroke-width="0.95"/><circle cx="439.73" cy="680.72" r="2.1" fill="#fff" stroke="#008000" stroke-width="0.95"/>
<path d="M121.35 509.91L131.15 511.96M143.03 514.75L152.97 517.32M161 524.57L178.5 571.74M186.36 579.53L196.64 583.22M208.11 587.35L218.39 591.05M229.8 595.34L240.2 599.43M251.61 603.73L261.89 607.43M273.09 612.19L283.91 617.53M294.92 622.78L305.58 627.69M316.67 632.79L327.33 637.7M338.42 642.8L349.08 647.71M360.08 653L370.92 658.44M381.84 663.88L392.66 669.22M403.58 674.66L414.42 680.1M425.4 685.43L436.1 690.44" fill="none" stroke="#008080" stroke-width="2.6"/>
<rect x="109.97" y="503.26" width="10.8" height="10.8" fill="#008080"/>
<rect x="131.72" y="507.81" width="10.8" height="10.8" fill="#008080"/>
<rect x="153.47" y="513.46" width="10.8" height="10.8" fill="#008080"/>
<rect x="175.22" y="572.06" width="10.8" height="10.8" fill="#008080"/>
<rect x="196.97" y="579.89" width="10.8" height="10.8" fill="#008080"/>
<rect x="218.72" y="587.71" width="10.8" height="10.8" fill="#008080"/>
<rect x="240.47" y="596.27" width="10.8" height="10.8" fill="#008080"/>
<rect x="262.23" y="604.09" width="10.8" height="10.8" fill="#008080"/>
<rect x="283.98" y="614.83" width="10.8" height="10.8" fill="#008080"/>
<rect x="305.73" y="624.84" width="10.8" height="10.8" fill="#008080"/>
<rect x="327.48" y="634.85" width="10.8" height="10.8" fill="#008080"/>
<rect x="349.23" y="644.86" width="10.8" height="10.8" fill="#008080"/>
<rect x="370.98" y="655.78" width="10.8" height="10.8" fill="#008080"/>
<rect x="392.73" y="666.52" width="10.8" height="10.8" fill="#008080"/>
<rect x="414.48" y="677.44" width="10.8" height="10.8" fill="#008080"/>
<rect x="436.23" y="687.63" width="10.8" height="10.8" fill="#008080"/>
<path d="M121.29 537.09L131.21 539.57M143 542.68L153 545.44M164.79 548.55L174.71 551.04M186.44 554.37L196.56 557.59M208.17 561.33L218.33 564.65M229.92 568.43L240.08 571.75M251.69 575.49L261.81 578.71M270.63 585.86L286.37 613.65M295.05 621.19L305.45 625.28M316.75 629.86L327.25 634.26M338.54 638.88L348.96 643.07M360.17 647.9L370.83 652.81M381.92 657.91L392.58 662.82M403.65 667.95L414.35 672.97M425.42 678.11L436.08 683.02" fill="none" stroke="#000080" stroke-width="2.6"/>
<circle cx="115.38" cy="535.6" r="5.3" fill="#fff" stroke="#000080" stroke-width="0.95"/>
<circle cx="137.12" cy="541.06" r="5.3" fill="#fff" stroke="#000080" stroke-width="0.95"/>
<circle cx="158.88" cy="547.07" r="5.3" fill="#fff" stroke="#000080" stroke-width="0.95"/>
<circle cx="180.62" cy="552.53" r="5.3" fill="#fff" stroke="#000080" stroke-width="0.95"/>
<circle cx="202.38" cy="559.44" r="5.3" fill="#fff" stroke="#000080" stroke-width="0.95"/>
<circle cx="224.12" cy="566.54" r="5.3" fill="#fff" stroke="#000080" stroke-width="0.95"/>
<circle cx="245.88" cy="573.64" r="5.3" fill="#fff" stroke="#000080" stroke-width="0.95"/>
<circle cx="267.62" cy="580.55" r="5.3" fill="#fff" stroke="#000080" stroke-width="0.95"/>
<circle cx="289.38" cy="618.96" r="5.3" fill="#fff" stroke="#000080" stroke-width="0.95"/>
<circle cx="311.12" cy="627.51" r="5.3" fill="#fff" stroke="#000080" stroke-width="0.95"/>
<circle cx="332.88" cy="636.61" r="5.3" fill="#fff" stroke="#000080" stroke-width="0.95"/>
<circle cx="354.62" cy="645.35" r="5.3" fill="#fff" stroke="#000080" stroke-width="0.95"/>
<circle cx="376.38" cy="655.36" r="5.3" fill="#fff" stroke="#000080" stroke-width="0.95"/>
<circle cx="398.12" cy="665.37" r="5.3" fill="#fff" stroke="#000080" stroke-width="0.95"/>
<circle cx="419.88" cy="675.56" r="5.3" fill="#fff" stroke="#000080" stroke-width="0.95"/>
<circle cx="441.62" cy="685.57" r="5.3" fill="#fff" stroke="#000080" stroke-width="0.95"/>
<path d="M100.75 717V710.9M100.75 408.8V414.9M175.75 717V710.9M175.75 408.8V414.9M250.75 717V710.9M250.75 408.8V414.9M325.75 717V710.9M325.75 408.8V414.9M400.75 717V710.9M400.75 408.8V414.9M475.75 717V710.9M475.75 408.8V414.9M138.25 717V714M138.25 408.8V411.8M213.25 717V714M213.25 408.8V411.8M288.25 717V714M288.25 408.8V411.8M363.25 717V714M363.25 408.8V411.8M438.25 717V714M438.25 408.8V411.8M82.6 699.4H88.7M493.9 699.4H487.8M82.6 663H88.7M493.9 663H487.8M82.6 626.6H88.7M493.9 626.6H487.8M82.6 590.2H88.7M493.9 590.2H487.8M82.6 553.8H88.7M493.9 553.8H487.8M82.6 517.4H88.7M493.9 517.4H487.8M82.6 481H88.7M493.9 481H487.8M82.6 444.6H88.7M493.9 444.6H487.8M82.6 408.2H88.7M493.9 408.2H487.8M82.6 681.2H85.6M493.9 681.2H490.9M82.6 644.8H85.6M493.9 644.8H490.9M82.6 608.4H85.6M493.9 608.4H490.9M82.6 572H85.6M493.9 572H490.9M82.6 535.6H85.6M493.9 535.6H490.9M82.6 499.2H85.6M493.9 499.2H490.9M82.6 462.8H85.6M493.9 462.8H490.9M82.6 426.4H85.6M493.9 426.4H490.9" fill="none" stroke="#000" stroke-width="2.5" stroke-linecap="round"/>
<rect x="82" y="408.2" width="412.5" height="309.4" fill="none" stroke="#000" stroke-width="2.8"/>
<text class="tk" transform="translate(100.75 741.3) scale(.945 1)" text-anchor="middle">0.0</text>
<text class="tk" transform="translate(175.75 741.3) scale(.945 1)" text-anchor="middle">0.2</text>
<text class="tk" transform="translate(250.75 741.3) scale(.945 1)" text-anchor="middle">0.4</text>
<text class="tk" transform="translate(325.75 741.3) scale(.945 1)" text-anchor="middle">0.6</text>
<text class="tk" transform="translate(400.75 741.3) scale(.945 1)" text-anchor="middle">0.8</text>
<text class="tk" transform="translate(475.75 741.3) scale(.945 1)" text-anchor="middle">1.0</text>
<text class="tk" transform="translate(74.2 704.6) scale(.945 1)" text-anchor="end">0</text>
<text class="tk" transform="translate(74.2 668.2) scale(.945 1)" text-anchor="end">2</text>
<text class="tk" transform="translate(74.2 631.8) scale(.945 1)" text-anchor="end">4</text>
<text class="tk" transform="translate(74.2 595.4) scale(.945 1)" text-anchor="end">6</text>
<text class="tk" transform="translate(74.2 559) scale(.945 1)" text-anchor="end">8</text>
<text class="tk" transform="translate(74.2 522.6) scale(.945 1)" text-anchor="end">10</text>
<text class="tk" transform="translate(74.2 486.2) scale(.945 1)" text-anchor="end">12</text>
<text class="tk" transform="translate(74.2 449.8) scale(.945 1)" text-anchor="end">14</text>
<text class="tk" transform="translate(74.2 413.4) scale(.945 1)" text-anchor="end">16</text>
<text class="xt" x="260.5" y="769.7" text-anchor="middle" textLength="143.5" lengthAdjust="spacing">(T-T<tspan class="sb" dy="11">g</tspan><tspan dy="-11">) / (T</tspan><tspan class="sb" dy="11">m</tspan><tspan dy="-11">-T</tspan><tspan class="sb" dy="11">g</tspan><tspan dy="-11">)</tspan></text>
<text class="yt" transform="translate(49.3 565) rotate(-90)" text-anchor="middle">G<tspan class="ss" dy="8.5">conf</tspan><tspan dy="-8.5"> / kJmol<tspan class="sp" dy="-16">-1</tspan></tspan></text>
<path d="M612.8 417.5H659.6" stroke="#000080" stroke-width="2.7" stroke-linecap="round" fill="none"/>
<rect x="631.4" y="412.6" width="9.8" height="9.8" fill="#fff" stroke="#000080" stroke-width="0.95"/>
<text class="lg" x="666" y="424.5">tolbutamide</text>
<path d="M612.8 443.18H659.6" stroke="#0000FF" stroke-width="2.7" stroke-linecap="round" fill="none"/>
<circle cx="636.3" cy="443.18" r="5.7" fill="#0000FF"/>
<text class="lg" x="666" y="450.18">acetaminophen</text>
<path d="M612.8 468.86H659.6" stroke="#00FFFF" stroke-width="2.7" stroke-linecap="round" fill="none"/>
<polygon points="636.3,462.26 642.4,472.26 630.2,472.26" fill="#fff" stroke="#00FFFF" stroke-width="0.95" stroke-linejoin="miter"/>
<text class="lg" x="666" y="475.86">simvastatin</text>
<path d="M612.8 494.54H659.6" stroke="#00FF00" stroke-width="2.7" stroke-linecap="round" fill="none"/>
<polygon points="636.3,501.74 643.1,490.94 629.5,490.94" fill="#00FF00" stroke="#00FF00" stroke-width="0.4" stroke-linejoin="miter"/>
<text class="lg" x="666" y="501.54">nifedipine</text>
<path d="M612.8 520.22H659.6" stroke="#008000" stroke-width="2.7" stroke-linecap="round" fill="none"/>
<polygon points="629.7,520.22 639.7,514.12 639.7,526.32" fill="#fff" stroke="#008000" stroke-width="0.95" stroke-linejoin="miter"/>
<text class="lg" x="666" y="527.22">indomethacin</text>
<path d="M612.8 545.9H659.6" stroke="#008080" stroke-width="2.7" stroke-linecap="round" fill="none"/>
<polygon points="643.3,545.9 632.8,539.5 632.8,552.3" fill="#008080" stroke="#008080" stroke-width="0.4" stroke-linejoin="miter"/>
<text class="lg" x="666" y="552.9">DRUG A</text>
<path d="M612.8 571.58H659.6" stroke="#000080" stroke-width="2.7" stroke-linecap="round" fill="none"/>
<polygon points="636.3,565.08 642.8,571.58 636.3,578.08 629.8,571.58" fill="#fff" stroke="#000080" stroke-width="0.95" stroke-linejoin="miter"/>
<text class="lg" x="666" y="578.58">troglitazone</text>
<path d="M612.8 597.26H659.6" stroke="#0000FF" stroke-width="2.7" stroke-linecap="round" fill="none"/>
<polygon points="636.3,591.56 642.1,595.77 639.89,602.6 632.71,602.6 630.5,595.77" fill="#0000FF" stroke="#0000FF" stroke-width="0.3" stroke-linejoin="miter"/>
<text class="lg" x="666" y="604.26">DRUG B</text>
<path d="M612.8 622.94H659.6" stroke="#00FFFF" stroke-width="2.7" stroke-linecap="round" fill="none"/>
<polygon points="636.3,616.74 641.67,619.84 641.67,626.04 636.3,629.14 630.93,626.04 630.93,619.84" fill="#fff" stroke="#00FFFF" stroke-width="0.95" stroke-linejoin="miter"/>
<text class="lg" x="666" y="629.94">cefuroxime axetil</text>
<path d="M612.8 648.62H659.6" stroke="#00FF00" stroke-width="2.7" stroke-linecap="round" fill="none"/>
<polygon points="636.3,642.62 637.89,646.74 642.29,646.97 638.87,649.75 640,654.02 636.3,651.62 632.6,654.02 633.73,649.75 630.31,646.97 634.71,646.74" fill="#00FF00" stroke="#00FF00" stroke-width="0.3" stroke-linejoin="miter"/>
<text class="lg" x="666" y="655.62">lacidipine</text>
<path d="M612.8 674.3H659.6" stroke="#008000" stroke-width="2.7" stroke-linecap="round" fill="none"/>
<circle cx="636.3" cy="674.3" r="5.3" fill="#fff" stroke="#008000" stroke-width="0.95"/><circle cx="634.4" cy="672" r="2.1" fill="#fff" stroke="#008000" stroke-width="0.95"/>
<text class="lg" x="666" y="681.3">griseofulvin</text>
<path d="M612.8 699.98H659.6" stroke="#008080" stroke-width="2.7" stroke-linecap="round" fill="none"/>
<rect x="630.9" y="694.58" width="10.8" height="10.8" fill="#008080"/>
<text class="lg" x="666" y="706.98">fenofibrate</text>
<path d="M612.8 725.66H659.6" stroke="#000080" stroke-width="2.7" stroke-linecap="round" fill="none"/>
<circle cx="636.3" cy="725.66" r="5.3" fill="#fff" stroke="#000080" stroke-width="0.95"/>
<text class="lg" x="666" y="732.66">ibuprofen</text>
</svg>
</body></html>
